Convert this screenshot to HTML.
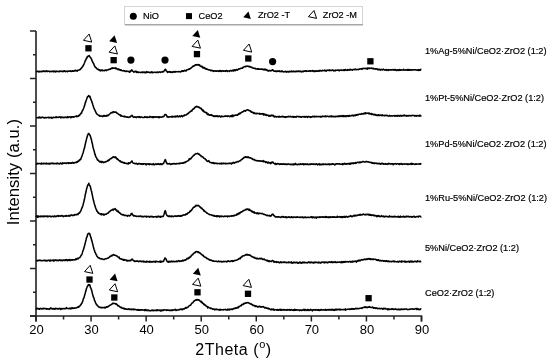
<!DOCTYPE html>
<html><head><meta charset="utf-8"><style>
html,body{margin:0;padding:0;background:#fff;}
svg{display:block;}
text{font-family:"Liberation Sans",Arial,sans-serif;fill:#000;}
.t9{font-size:9.2px;fill:#000;stroke:#000;stroke-width:0.18px;}
.t12{font-size:13px;}
.t16{font-size:16px;}
</style></head><body>
<svg width="550" height="364" viewBox="0 0 550 364">
<rect width="550" height="364" fill="#fff"/>
<path d="M36,31.0 V321.5 M30,316 H421.5 V321.5" fill="none" stroke="#222" stroke-width="1.6"/>
<path d="M30,31.00H36M33,54.75H36M30,78.50H36M33,102.25H36M30,126.00H36M33,149.75H36M30,173.50H36M33,197.25H36M30,221.00H36M33,244.75H36M30,268.50H36M33,292.25H36M30,316.00H36M36.00,316V321.5M63.54,316V319.5M91.07,316V321.5M118.61,316V319.5M146.14,316V321.5M173.68,316V319.5M201.21,316V321.5M228.75,316V319.5M256.29,316V321.5M283.82,316V319.5M311.36,316V321.5M338.89,316V319.5M366.43,316V321.5M393.96,316V319.5M421.50,316V321.5" fill="none" stroke="#222" stroke-width="1.5"/>
<text x="36.50" y="334.4" text-anchor="middle" class="t12">20</text>
<text x="91.57" y="334.4" text-anchor="middle" class="t12">30</text>
<text x="146.64" y="334.4" text-anchor="middle" class="t12">40</text>
<text x="201.71" y="334.4" text-anchor="middle" class="t12">50</text>
<text x="256.79" y="334.4" text-anchor="middle" class="t12">60</text>
<text x="311.86" y="334.4" text-anchor="middle" class="t12">70</text>
<text x="366.93" y="334.4" text-anchor="middle" class="t12">80</text>
<text x="422.00" y="334.4" text-anchor="middle" class="t12">90</text>
<text x="195.2" y="354.8" class="t16" letter-spacing="0.55">2Theta (<tspan dy="-7.2" font-size="11">o</tspan><tspan dy="7.2">)</tspan></text>
<text transform="translate(19.4,225.3) rotate(-90)" class="t16" style="font-size:16.6px" letter-spacing="0.08">Intensity (a.u.)</text>
<path d="M36.0,71.54 36.4,71.62 36.8,71.46 37.2,71.29 37.6,71.41 38.0,71.25 38.4,71.55 38.8,71.90 39.2,71.39 39.6,71.35 40.0,71.66 40.4,71.62 40.8,71.55 41.2,71.25 41.6,71.50 42.0,71.70 42.4,71.13 42.8,71.38 43.2,70.97 43.6,71.14 44.0,70.98 44.4,71.43 44.8,71.14 45.2,71.56 45.6,71.53 46.0,71.43 46.4,70.78 46.8,71.33 47.2,71.46 47.6,71.50 48.0,71.04 48.4,71.33 48.8,71.19 49.2,71.23 49.6,71.75 50.0,71.23 50.4,71.44 50.8,71.70 51.2,71.28 51.6,71.41 52.0,71.47 52.4,71.45 52.8,71.09 53.2,71.45 53.6,71.80 54.0,70.99 54.4,71.66 54.8,71.45 55.2,71.23 55.6,71.96 56.0,71.61 56.4,71.06 56.8,71.41 57.2,71.55 57.6,71.33 58.0,71.57 58.4,71.36 58.8,71.56 59.2,71.77 59.6,71.17 60.0,71.41 60.4,71.22 60.8,71.38 61.2,71.00 61.6,71.17 62.0,71.27 62.4,71.57 62.8,71.63 63.2,70.94 63.6,71.08 64.0,71.47 64.4,70.73 64.8,71.15 65.2,71.24 65.6,71.61 66.0,71.44 66.4,71.15 66.8,71.13 67.2,71.15 67.6,71.64 68.0,71.08 68.4,71.11 68.8,71.28 69.2,71.13 69.6,71.10 70.0,70.83 70.4,71.12 70.8,70.99 71.2,71.42 71.6,71.26 72.0,71.05 72.4,71.23 72.8,70.92 73.2,71.29 73.6,70.97 74.0,71.11 74.4,70.55 74.8,70.98 75.2,70.37 75.6,70.23 76.0,70.67 76.4,70.44 76.8,70.67 77.2,71.18 77.6,70.23 78.0,70.18 78.4,70.28 78.8,70.21 79.2,69.85 79.6,69.63 80.0,69.63 80.4,69.29 80.8,68.51 81.2,68.39 81.6,67.98 82.0,67.17 82.4,66.97 82.8,66.03 83.2,65.85 83.6,64.88 84.0,64.05 84.4,63.01 84.8,62.26 85.2,60.83 85.6,60.17 86.0,59.69 86.4,58.13 86.8,58.17 87.2,56.73 87.6,56.84 88.0,55.95 88.4,56.13 88.8,55.85 89.2,55.47 89.6,56.52 90.0,57.02 90.4,57.18 90.8,57.83 91.2,58.65 91.6,59.28 92.0,60.75 92.4,61.19 92.8,62.23 93.2,62.90 93.6,63.78 94.0,64.40 94.4,65.85 94.8,66.14 95.2,67.07 95.6,67.37 96.0,67.67 96.4,68.21 96.8,68.53 97.2,69.02 97.6,69.20 98.0,69.46 98.4,69.36 98.8,69.69 99.2,70.52 99.6,69.99 100.0,69.98 100.4,70.44 100.8,70.81 101.2,70.05 101.6,70.44 102.0,70.35 102.4,70.05 102.8,70.76 103.2,70.55 103.6,70.57 104.0,70.32 104.4,70.63 104.8,70.32 105.2,70.39 105.6,70.06 106.0,69.96 106.4,70.60 106.8,70.00 107.2,70.12 107.6,69.91 108.0,69.67 108.4,69.52 108.8,69.69 109.2,69.28 109.6,69.16 110.0,69.05 110.4,69.20 110.8,68.90 111.2,68.66 111.6,68.24 112.0,67.88 112.4,68.41 112.8,68.32 113.2,67.94 113.6,68.08 114.0,68.14 114.4,68.17 114.8,68.25 115.2,67.94 115.6,68.60 116.0,67.95 116.4,68.69 116.8,68.74 117.2,69.01 117.6,69.47 118.0,69.53 118.4,68.97 118.8,68.99 119.2,69.85 119.6,69.49 120.0,69.92 120.4,70.32 120.8,69.77 121.2,69.78 121.6,70.57 122.0,70.63 122.4,70.66 122.8,70.83 123.2,70.67 123.6,70.57 124.0,71.01 124.4,70.85 124.8,70.72 125.2,71.38 125.6,71.27 126.0,71.44 126.4,71.09 126.8,71.23 127.2,71.16 127.6,71.23 128.0,71.56 128.4,71.31 128.8,71.66 129.2,71.67 129.6,72.14 130.0,71.13 130.4,71.61 130.8,71.03 131.2,70.61 131.6,69.85 132.0,70.16 132.4,70.91 132.8,71.17 133.2,71.58 133.6,71.69 134.0,72.20 134.4,71.93 134.8,71.36 135.2,71.81 135.6,71.49 136.0,71.16 136.4,71.95 136.8,72.50 137.2,72.17 137.6,71.85 138.0,71.95 138.4,72.55 138.8,72.30 139.2,72.30 139.6,72.30 140.0,72.35 140.4,72.56 140.8,72.49 141.2,72.39 141.6,72.04 142.0,72.47 142.4,72.14 142.8,72.63 143.2,71.97 143.6,72.28 144.0,72.32 144.4,71.95 144.8,72.80 145.2,72.72 145.6,72.18 146.0,72.52 146.4,72.41 146.8,71.57 147.2,72.37 147.6,72.28 148.0,72.32 148.4,71.99 148.8,72.21 149.2,72.24 149.6,72.62 150.0,72.37 150.4,72.27 150.8,72.70 151.2,72.11 151.6,72.16 152.0,71.75 152.4,72.70 152.8,72.52 153.2,72.51 153.6,72.43 154.0,72.27 154.4,72.30 154.8,72.16 155.2,72.17 155.6,72.24 156.0,72.64 156.4,72.37 156.8,72.19 157.2,72.04 157.6,72.02 158.0,72.64 158.4,72.33 158.8,72.20 159.2,72.07 159.6,71.85 160.0,72.13 160.4,72.39 160.8,72.02 161.2,72.05 161.6,72.04 162.0,72.11 162.4,71.60 162.8,71.92 163.2,71.61 163.6,71.81 164.0,70.84 164.4,70.51 164.8,70.06 165.2,69.22 165.6,69.45 166.0,70.38 166.4,71.02 166.8,71.23 167.2,71.91 167.6,72.47 168.0,71.88 168.4,71.91 168.8,71.68 169.2,72.07 169.6,71.63 170.0,71.66 170.4,72.33 170.8,71.71 171.2,72.26 171.6,72.37 172.0,72.01 172.4,72.08 172.8,72.46 173.2,71.85 173.6,71.73 174.0,71.50 174.4,71.88 174.8,72.27 175.2,72.11 175.6,71.56 176.0,71.56 176.4,71.64 176.8,71.84 177.2,71.68 177.6,71.77 178.0,71.77 178.4,71.57 178.8,71.62 179.2,71.66 179.6,71.54 180.0,71.67 180.4,72.02 180.8,71.62 181.2,71.42 181.6,70.89 182.0,71.41 182.4,70.70 182.8,70.79 183.2,71.36 183.6,71.24 184.0,70.92 184.4,70.40 184.8,70.68 185.2,70.49 185.6,70.75 186.0,71.08 186.4,70.38 186.8,69.96 187.2,69.69 187.6,69.84 188.0,69.63 188.4,69.17 188.8,69.32 189.2,68.75 189.6,69.16 190.0,68.91 190.4,68.66 190.8,67.96 191.2,67.97 191.6,67.51 192.0,67.15 192.4,66.88 192.8,66.32 193.2,66.00 193.6,66.34 194.0,65.80 194.4,65.66 194.8,65.66 195.2,64.69 195.6,64.79 196.0,64.92 196.4,64.89 196.8,64.62 197.2,65.01 197.6,64.81 198.0,64.48 198.4,64.66 198.8,65.28 199.2,65.34 199.6,64.86 200.0,65.97 200.4,65.97 200.8,66.39 201.2,66.13 201.6,66.38 202.0,66.38 202.4,67.64 202.8,67.11 203.2,67.83 203.6,67.43 204.0,67.88 204.4,67.58 204.8,68.16 205.2,68.75 205.6,68.32 206.0,69.16 206.4,69.14 206.8,68.93 207.2,69.25 207.6,69.42 208.0,69.68 208.4,69.68 208.8,69.73 209.2,69.99 209.6,69.90 210.0,69.93 210.4,70.37 210.8,70.72 211.2,70.12 211.6,70.62 212.0,70.51 212.4,70.47 212.8,71.04 213.2,70.70 213.6,71.31 214.0,70.71 214.4,71.07 214.8,70.92 215.2,70.80 215.6,71.20 216.0,71.01 216.4,71.24 216.8,71.07 217.2,70.79 217.6,71.08 218.0,71.13 218.4,71.39 218.8,70.88 219.2,71.12 219.6,70.65 220.0,71.32 220.4,70.84 220.8,70.63 221.2,71.12 221.6,71.45 222.0,70.71 222.4,70.83 222.8,70.92 223.2,70.81 223.6,71.22 224.0,70.89 224.4,70.90 224.8,71.26 225.2,70.87 225.6,71.20 226.0,70.79 226.4,70.71 226.8,70.53 227.2,71.55 227.6,70.92 228.0,71.06 228.4,70.97 228.8,71.00 229.2,70.95 229.6,71.44 230.0,70.59 230.4,70.42 230.8,70.55 231.2,70.43 231.6,70.98 232.0,70.96 232.4,70.43 232.8,70.26 233.2,70.50 233.6,70.94 234.0,69.70 234.4,70.58 234.8,70.06 235.2,70.58 235.6,69.90 236.0,70.03 236.4,69.60 236.8,69.64 237.2,70.19 237.6,69.92 238.0,69.45 238.4,69.18 238.8,68.76 239.2,69.03 239.6,68.97 240.0,68.79 240.4,68.62 240.8,68.16 241.2,68.28 241.6,68.10 242.0,68.29 242.4,68.26 242.8,67.52 243.2,67.16 243.6,67.18 244.0,66.86 244.4,66.67 244.8,66.72 245.2,66.32 245.6,66.67 246.0,66.39 246.4,66.44 246.8,66.28 247.2,66.13 247.6,66.09 248.0,66.33 248.4,66.32 248.8,66.63 249.2,66.67 249.6,66.42 250.0,66.96 250.4,66.71 250.8,67.07 251.2,67.32 251.6,66.97 252.0,67.74 252.4,67.90 252.8,67.96 253.2,68.03 253.6,68.17 254.0,68.12 254.4,68.43 254.8,68.45 255.2,68.72 255.6,68.43 256.0,68.90 256.4,68.93 256.8,68.90 257.2,68.85 257.6,69.16 258.0,68.57 258.4,69.18 258.8,69.13 259.2,69.16 259.6,69.20 260.0,68.92 260.4,69.04 260.8,69.31 261.2,69.28 261.6,69.25 262.0,68.80 262.4,69.42 262.8,69.65 263.2,69.67 263.6,69.52 264.0,69.10 264.4,69.88 264.8,69.66 265.2,69.08 265.6,69.99 266.0,69.56 266.4,69.70 266.8,69.98 267.2,70.61 267.6,70.23 268.0,70.50 268.4,70.99 268.8,71.02 269.2,70.62 269.6,70.64 270.0,70.40 270.4,70.59 270.8,70.88 271.2,70.76 271.6,70.46 272.0,70.44 272.4,69.74 272.8,69.98 273.2,70.47 273.6,70.78 274.0,71.21 274.4,71.21 274.8,71.11 275.2,71.36 275.6,71.01 276.0,70.86 276.4,71.50 276.8,71.34 277.2,71.45 277.6,70.91 278.0,71.29 278.4,71.24 278.8,71.17 279.2,70.79 279.6,71.34 280.0,71.69 280.4,71.55 280.8,71.28 281.2,71.46 281.6,71.68 282.0,70.70 282.4,71.44 282.8,71.63 283.2,71.68 283.6,71.97 284.0,71.81 284.4,71.59 284.8,71.59 285.2,71.73 285.6,71.36 286.0,71.51 286.4,71.77 286.8,72.07 287.2,71.48 287.6,71.52 288.0,71.59 288.4,71.91 288.8,71.53 289.2,71.96 289.6,71.28 290.0,71.50 290.4,71.49 290.8,71.75 291.2,71.82 291.6,71.09 292.0,71.25 292.4,71.59 292.8,71.30 293.2,71.05 293.6,71.76 294.0,71.60 294.4,71.59 294.8,71.31 295.2,71.72 295.6,71.35 296.0,71.72 296.4,71.14 296.8,71.15 297.2,71.44 297.6,71.17 298.0,71.55 298.4,71.42 298.8,71.08 299.2,71.35 299.6,71.22 300.0,71.57 300.4,71.12 300.8,71.17 301.2,71.62 301.6,71.89 302.0,71.82 302.4,71.26 302.8,71.30 303.2,71.66 303.6,71.18 304.0,70.93 304.4,71.23 304.8,71.31 305.2,70.94 305.6,70.70 306.0,70.75 306.4,71.33 306.8,70.92 307.2,71.08 307.6,71.17 308.0,71.27 308.4,71.00 308.8,71.22 309.2,70.82 309.6,70.96 310.0,70.76 310.4,71.35 310.8,71.02 311.2,70.81 311.6,70.90 312.0,70.93 312.4,71.18 312.8,70.52 313.2,70.67 313.6,70.84 314.0,71.65 314.4,71.19 314.8,70.88 315.2,71.10 315.6,71.47 316.0,70.82 316.4,70.77 316.8,71.20 317.2,70.99 317.6,71.02 318.0,70.68 318.4,71.35 318.8,71.28 319.2,70.95 319.6,70.97 320.0,70.20 320.4,70.94 320.8,70.69 321.2,70.86 321.6,70.91 322.0,70.62 322.4,70.23 322.8,70.79 323.2,70.47 323.6,70.57 324.0,70.48 324.4,70.55 324.8,69.98 325.2,70.96 325.6,70.68 326.0,70.91 326.4,71.14 326.8,70.58 327.2,70.06 327.6,70.30 328.0,70.20 328.4,70.38 328.8,70.53 329.2,69.94 329.6,70.58 330.0,70.05 330.4,70.55 330.8,70.42 331.2,70.35 331.6,70.41 332.0,70.26 332.4,70.23 332.8,69.92 333.2,70.37 333.6,70.88 334.0,70.91 334.4,70.71 334.8,70.53 335.2,70.13 335.6,70.71 336.0,70.27 336.4,70.26 336.8,70.18 337.2,70.28 337.6,70.11 338.0,70.20 338.4,69.91 338.8,70.09 339.2,70.82 339.6,70.15 340.0,70.09 340.4,70.30 340.8,70.34 341.2,69.83 341.6,70.08 342.0,70.39 342.4,70.20 342.8,70.15 343.2,70.54 343.6,69.91 344.0,70.12 344.4,69.94 344.8,70.50 345.2,69.53 345.6,69.88 346.0,69.91 346.4,70.23 346.8,70.21 347.2,70.42 347.6,69.57 348.0,70.21 348.4,69.91 348.8,69.79 349.2,70.11 349.6,69.69 350.0,69.35 350.4,69.81 350.8,69.48 351.2,69.70 351.6,69.96 352.0,69.92 352.4,70.26 352.8,69.73 353.2,69.34 353.6,69.53 354.0,69.45 354.4,69.34 354.8,69.77 355.2,69.44 355.6,69.03 356.0,69.74 356.4,69.48 356.8,69.57 357.2,69.46 357.6,69.57 358.0,69.36 358.4,69.65 358.8,69.38 359.2,69.32 359.6,69.28 360.0,68.71 360.4,69.02 360.8,68.95 361.2,69.03 361.6,68.54 362.0,69.32 362.4,68.84 362.8,68.43 363.2,68.24 363.6,68.59 364.0,68.60 364.4,68.38 364.8,68.57 365.2,68.32 365.6,68.62 366.0,68.24 366.4,68.40 366.8,68.67 367.2,69.10 367.6,68.08 368.0,68.23 368.4,68.13 368.8,68.59 369.2,68.06 369.6,68.26 370.0,68.41 370.4,68.17 370.8,68.21 371.2,68.38 371.6,67.96 372.0,68.18 372.4,68.51 372.8,68.71 373.2,68.67 373.6,68.27 374.0,68.68 374.4,69.08 374.8,69.06 375.2,68.93 375.6,68.75 376.0,69.22 376.4,68.93 376.8,68.81 377.2,68.95 377.6,69.62 378.0,69.32 378.4,69.62 378.8,69.20 379.2,69.63 379.6,69.24 380.0,69.39 380.4,70.17 380.8,69.72 381.2,69.39 381.6,69.53 382.0,69.67 382.4,69.94 382.8,69.49 383.2,69.16 383.6,69.59 384.0,69.69 384.4,69.74 384.8,70.09 385.2,69.83 385.6,69.98 386.0,69.46 386.4,70.02 386.8,70.38 387.2,70.02 387.6,69.88 388.0,69.86 388.4,70.33 388.8,69.57 389.2,69.81 389.6,69.98 390.0,70.06 390.4,69.74 390.8,69.95 391.2,69.79 391.6,69.91 392.0,69.84 392.4,69.56 392.8,69.88 393.2,70.13 393.6,69.62 394.0,69.82 394.4,70.08 394.8,69.59 395.2,69.95 395.6,69.60 396.0,70.22 396.4,70.55 396.8,70.47 397.2,69.84 397.6,70.11 398.0,69.94 398.4,69.93 398.8,70.34 399.2,69.53 399.6,70.20 400.0,69.89 400.4,70.30 400.8,69.96 401.2,69.72 401.6,69.98 402.0,70.11 402.4,69.91 402.8,70.04 403.2,69.76 403.6,69.31 404.0,70.15 404.4,70.10 404.8,69.94 405.2,69.92 405.6,70.19 406.0,69.77 406.4,69.70 406.8,69.85 407.2,70.23 407.6,69.51 408.0,70.23 408.4,69.72 408.8,69.59 409.2,70.25 409.6,69.87 410.0,69.53 410.4,69.79 410.8,70.15 411.2,70.22 411.6,69.77 412.0,70.00 412.4,70.09 412.8,69.70 413.2,69.98 413.6,69.87 414.0,69.73 414.4,69.74 414.8,69.90 415.2,69.89 415.6,69.72 416.0,69.76 416.4,70.19 416.8,69.93 417.2,70.12 417.6,70.21 418.0,70.03 418.4,70.50 418.8,69.63 419.2,70.09 419.6,69.77 420.0,70.38 420.4,70.34 420.8,69.31 421.2,69.59" fill="none" stroke="#000" stroke-width="1.55" stroke-linejoin="round"/>
<path d="M36.0,117.80 36.4,117.84 36.8,117.82 37.2,117.59 37.6,117.74 38.0,117.79 38.4,117.58 38.8,117.89 39.2,116.97 39.6,117.77 40.0,117.30 40.4,117.86 40.8,117.52 41.2,117.34 41.6,117.69 42.0,117.32 42.4,117.32 42.8,117.14 43.2,117.56 43.6,117.71 44.0,117.85 44.4,117.52 44.8,117.85 45.2,117.56 45.6,117.53 46.0,117.71 46.4,117.84 46.8,117.45 47.2,117.47 47.6,117.49 48.0,117.56 48.4,117.28 48.8,117.81 49.2,117.41 49.6,117.65 50.0,117.28 50.4,117.61 50.8,117.62 51.2,117.39 51.6,118.07 52.0,117.60 52.4,117.99 52.8,117.76 53.2,117.30 53.6,117.37 54.0,117.60 54.4,117.49 54.8,117.48 55.2,117.38 55.6,116.95 56.0,117.39 56.4,116.82 56.8,117.54 57.2,117.23 57.6,117.23 58.0,117.36 58.4,117.49 58.8,117.01 59.2,116.91 59.6,117.10 60.0,116.82 60.4,117.11 60.8,117.82 61.2,117.07 61.6,117.54 62.0,116.97 62.4,117.43 62.8,117.25 63.2,117.31 63.6,117.48 64.0,117.80 64.4,117.35 64.8,117.32 65.2,117.01 65.6,117.43 66.0,117.19 66.4,117.48 66.8,117.22 67.2,117.70 67.6,116.65 68.0,117.11 68.4,117.42 68.8,117.06 69.2,116.92 69.6,117.05 70.0,116.72 70.4,117.12 70.8,117.75 71.2,117.36 71.6,116.71 72.0,116.75 72.4,116.85 72.8,117.22 73.2,116.68 73.6,116.68 74.0,117.08 74.4,117.03 74.8,116.64 75.2,116.38 75.6,116.20 76.0,116.37 76.4,115.87 76.8,116.61 77.2,116.12 77.6,116.30 78.0,116.54 78.4,116.17 78.8,115.31 79.2,115.62 79.6,115.41 80.0,114.53 80.4,114.06 80.8,113.82 81.2,112.86 81.6,113.10 82.0,111.31 82.4,110.88 82.8,110.24 83.2,109.29 83.6,108.35 84.0,107.26 84.4,105.94 84.8,105.09 85.2,102.91 85.6,102.24 86.0,100.79 86.4,99.82 86.8,98.73 87.2,97.43 87.6,96.68 88.0,96.46 88.4,95.95 88.8,95.52 89.2,96.41 89.6,96.87 90.0,96.43 90.4,97.74 90.8,99.34 91.2,99.96 91.6,101.00 92.0,102.12 92.4,103.29 92.8,104.64 93.2,105.77 93.6,107.31 94.0,108.10 94.4,109.13 94.8,109.87 95.2,111.06 95.6,111.61 96.0,112.50 96.4,113.46 96.8,113.80 97.2,114.31 97.6,114.66 98.0,114.91 98.4,115.15 98.8,115.33 99.2,115.83 99.6,115.47 100.0,116.29 100.4,116.03 100.8,115.89 101.2,116.03 101.6,116.03 102.0,116.30 102.4,116.08 102.8,116.60 103.2,116.06 103.6,115.63 104.0,116.03 104.4,115.62 104.8,116.11 105.2,116.34 105.6,116.13 106.0,115.47 106.4,115.50 106.8,116.06 107.2,115.48 107.6,115.21 108.0,115.30 108.4,115.47 108.8,114.91 109.2,114.33 109.6,114.13 110.0,113.93 110.4,113.32 110.8,112.92 111.2,112.97 111.6,112.45 112.0,112.47 112.4,112.32 112.8,112.79 113.2,111.78 113.6,111.91 114.0,111.88 114.4,112.08 114.8,112.33 115.2,112.03 115.6,112.11 116.0,112.09 116.4,112.52 116.8,113.19 117.2,113.33 117.6,113.31 118.0,113.77 118.4,114.17 118.8,114.58 119.2,114.54 119.6,114.89 120.0,114.69 120.4,115.10 120.8,116.08 121.2,115.20 121.6,115.88 122.0,116.19 122.4,116.16 122.8,116.15 123.2,116.46 123.6,116.57 124.0,116.62 124.4,116.19 124.8,116.73 125.2,116.57 125.6,116.70 126.0,116.95 126.4,117.09 126.8,117.19 127.2,116.82 127.6,117.23 128.0,117.31 128.4,117.31 128.8,117.38 129.2,116.95 129.6,116.92 130.0,117.14 130.4,116.37 130.8,116.52 131.2,115.91 131.6,115.62 132.0,115.24 132.4,115.82 132.8,116.47 133.2,117.03 133.6,117.22 134.0,116.99 134.4,116.99 134.8,116.83 135.2,117.18 135.6,117.01 136.0,117.25 136.4,117.58 136.8,117.08 137.2,116.67 137.6,116.85 138.0,116.69 138.4,116.76 138.8,117.47 139.2,117.16 139.6,116.68 140.0,117.28 140.4,117.45 140.8,117.00 141.2,116.91 141.6,117.01 142.0,117.18 142.4,117.28 142.8,117.43 143.2,117.44 143.6,117.43 144.0,117.48 144.4,117.28 144.8,116.66 145.2,117.06 145.6,117.18 146.0,116.98 146.4,117.34 146.8,116.98 147.2,116.82 147.6,117.49 148.0,117.27 148.4,117.14 148.8,117.33 149.2,117.37 149.6,117.16 150.0,116.38 150.4,116.88 150.8,116.93 151.2,116.78 151.6,117.11 152.0,117.39 152.4,116.92 152.8,116.73 153.2,117.61 153.6,116.92 154.0,116.69 154.4,117.10 154.8,117.15 155.2,116.83 155.6,117.25 156.0,116.88 156.4,116.76 156.8,117.06 157.2,117.22 157.6,116.82 158.0,117.09 158.4,116.96 158.8,117.77 159.2,116.78 159.6,117.36 160.0,116.95 160.4,116.92 160.8,117.14 161.2,117.18 161.6,117.26 162.0,116.98 162.4,116.69 162.8,116.64 163.2,116.80 163.6,116.54 164.0,116.26 164.4,115.27 164.8,114.74 165.2,114.54 165.6,114.47 166.0,114.71 166.4,115.49 166.8,115.91 167.2,117.03 167.6,116.47 168.0,117.10 168.4,116.93 168.8,117.26 169.2,117.06 169.6,116.74 170.0,116.71 170.4,116.79 170.8,116.80 171.2,116.60 171.6,116.72 172.0,117.17 172.4,116.23 172.8,116.77 173.2,116.43 173.6,116.72 174.0,116.89 174.4,116.62 174.8,116.83 175.2,116.15 175.6,116.88 176.0,116.38 176.4,116.70 176.8,116.56 177.2,115.75 177.6,116.24 178.0,116.48 178.4,116.82 178.8,116.43 179.2,116.39 179.6,115.88 180.0,116.63 180.4,116.69 180.8,116.13 181.2,116.01 181.6,115.55 182.0,116.19 182.4,116.62 182.8,115.98 183.2,116.04 183.6,115.74 184.0,115.21 184.4,115.74 184.8,114.89 185.2,115.03 185.6,115.02 186.0,115.02 186.4,114.70 186.8,114.50 187.2,113.96 187.6,113.58 188.0,113.71 188.4,113.23 188.8,112.78 189.2,112.49 189.6,112.39 190.0,111.67 190.4,111.46 190.8,111.01 191.2,111.13 191.6,110.80 192.0,110.85 192.4,109.46 192.8,109.28 193.2,109.32 193.6,108.61 194.0,108.20 194.4,108.41 194.8,107.52 195.2,107.01 195.6,106.73 196.0,107.00 196.4,106.87 196.8,106.33 197.2,106.43 197.6,106.91 198.0,107.03 198.4,106.84 198.8,107.39 199.2,107.61 199.6,107.22 200.0,107.92 200.4,108.43 200.8,108.47 201.2,108.36 201.6,109.22 202.0,109.85 202.4,110.42 202.8,109.70 203.2,111.38 203.6,110.66 204.0,111.57 204.4,111.97 204.8,112.21 205.2,112.28 205.6,112.21 206.0,112.99 206.4,112.89 206.8,112.64 207.2,114.39 207.6,114.03 208.0,114.56 208.4,114.00 208.8,114.86 209.2,115.07 209.6,115.23 210.0,114.94 210.4,114.75 210.8,115.17 211.2,114.72 211.6,114.97 212.0,115.58 212.4,115.36 212.8,115.68 213.2,115.77 213.6,116.40 214.0,116.29 214.4,115.97 214.8,116.36 215.2,115.85 215.6,116.01 216.0,116.40 216.4,115.83 216.8,116.12 217.2,115.86 217.6,116.28 218.0,116.73 218.4,116.08 218.8,116.37 219.2,116.06 219.6,116.01 220.0,115.99 220.4,116.75 220.8,117.02 221.2,116.50 221.6,116.17 222.0,116.57 222.4,116.28 222.8,116.60 223.2,116.46 223.6,116.45 224.0,116.54 224.4,116.21 224.8,116.25 225.2,115.88 225.6,116.23 226.0,115.95 226.4,116.30 226.8,116.06 227.2,116.34 227.6,116.43 228.0,115.89 228.4,116.04 228.8,115.98 229.2,116.43 229.6,116.67 230.0,116.41 230.4,116.04 230.8,116.51 231.2,115.64 231.6,116.44 232.0,115.79 232.4,115.14 232.8,116.60 233.2,116.23 233.6,115.43 234.0,115.69 234.4,115.50 234.8,115.50 235.2,114.95 235.6,115.07 236.0,115.27 236.4,115.07 236.8,115.21 237.2,114.75 237.6,115.23 238.0,114.20 238.4,114.30 238.8,113.50 239.2,113.49 239.6,114.00 240.0,113.15 240.4,113.34 240.8,112.94 241.2,112.43 241.6,112.38 242.0,112.09 242.4,111.85 242.8,111.95 243.2,111.68 243.6,111.11 244.0,110.79 244.4,110.92 244.8,110.62 245.2,110.77 245.6,111.09 246.0,110.47 246.4,110.15 246.8,110.07 247.2,109.87 247.6,109.88 248.0,109.91 248.4,110.18 248.8,110.29 249.2,110.76 249.6,110.61 250.0,110.84 250.4,110.75 250.8,111.76 251.2,111.64 251.6,112.21 252.0,112.13 252.4,112.52 252.8,112.23 253.2,112.68 253.6,113.40 254.0,112.46 254.4,113.27 254.8,113.55 255.2,113.31 255.6,113.50 256.0,113.73 256.4,113.26 256.8,113.63 257.2,113.31 257.6,113.40 258.0,113.45 258.4,113.61 258.8,113.71 259.2,113.81 259.6,113.29 260.0,114.28 260.4,114.06 260.8,113.96 261.2,113.68 261.6,113.79 262.0,114.02 262.4,114.05 262.8,113.52 263.2,114.29 263.6,115.00 264.0,113.74 264.4,114.66 264.8,114.59 265.2,114.57 265.6,115.12 266.0,114.50 266.4,115.01 266.8,115.50 267.2,115.14 267.6,115.19 268.0,115.46 268.4,115.40 268.8,116.08 269.2,115.46 269.6,116.06 270.0,115.52 270.4,116.12 270.8,115.90 271.2,115.12 271.6,115.71 272.0,115.19 272.4,115.22 272.8,115.84 273.2,115.32 273.6,115.64 274.0,116.61 274.4,116.40 274.8,116.91 275.2,116.61 275.6,116.30 276.0,116.56 276.4,116.95 276.8,116.89 277.2,116.64 277.6,116.67 278.0,116.63 278.4,116.51 278.8,117.24 279.2,116.70 279.6,116.38 280.0,116.58 280.4,116.93 280.8,116.91 281.2,116.69 281.6,116.55 282.0,116.75 282.4,116.27 282.8,116.38 283.2,116.99 283.6,116.63 284.0,116.88 284.4,117.12 284.8,116.96 285.2,116.79 285.6,117.40 286.0,116.98 286.4,116.69 286.8,117.01 287.2,116.92 287.6,116.55 288.0,116.82 288.4,116.76 288.8,116.24 289.2,116.76 289.6,116.73 290.0,116.69 290.4,116.34 290.8,116.72 291.2,116.81 291.6,116.85 292.0,116.50 292.4,117.01 292.8,116.48 293.2,116.76 293.6,117.21 294.0,116.63 294.4,116.69 294.8,117.14 295.2,116.72 295.6,116.75 296.0,116.90 296.4,117.14 296.8,116.20 297.2,116.60 297.6,116.55 298.0,116.53 298.4,116.60 298.8,116.60 299.2,116.93 299.6,116.59 300.0,116.88 300.4,116.96 300.8,116.63 301.2,116.87 301.6,117.30 302.0,116.92 302.4,116.64 302.8,116.80 303.2,116.55 303.6,116.89 304.0,117.06 304.4,116.57 304.8,116.74 305.2,117.12 305.6,116.65 306.0,116.84 306.4,116.49 306.8,116.55 307.2,116.63 307.6,117.38 308.0,116.65 308.4,116.62 308.8,116.60 309.2,116.71 309.6,116.94 310.0,116.80 310.4,117.32 310.8,116.80 311.2,117.14 311.6,116.81 312.0,116.90 312.4,116.32 312.8,116.68 313.2,116.69 313.6,116.64 314.0,116.10 314.4,116.95 314.8,116.59 315.2,116.57 315.6,116.61 316.0,116.62 316.4,116.79 316.8,116.32 317.2,116.41 317.6,116.74 318.0,116.70 318.4,116.55 318.8,116.49 319.2,116.41 319.6,116.62 320.0,116.96 320.4,116.33 320.8,117.05 321.2,116.85 321.6,116.48 322.0,116.83 322.4,116.19 322.8,116.11 323.2,116.23 323.6,116.47 324.0,116.49 324.4,116.43 324.8,116.60 325.2,115.96 325.6,116.70 326.0,116.15 326.4,116.36 326.8,116.42 327.2,116.21 327.6,116.14 328.0,116.24 328.4,116.51 328.8,116.67 329.2,116.66 329.6,116.22 330.0,116.27 330.4,116.23 330.8,116.60 331.2,115.90 331.6,116.81 332.0,116.32 332.4,116.23 332.8,116.54 333.2,116.73 333.6,116.53 334.0,116.72 334.4,116.45 334.8,116.75 335.2,116.75 335.6,116.36 336.0,116.79 336.4,116.42 336.8,116.39 337.2,116.10 337.6,116.27 338.0,116.56 338.4,115.96 338.8,116.50 339.2,116.41 339.6,116.38 340.0,115.67 340.4,116.25 340.8,116.45 341.2,116.04 341.6,116.27 342.0,115.57 342.4,116.41 342.8,116.02 343.2,116.44 343.6,115.66 344.0,116.36 344.4,116.08 344.8,116.36 345.2,115.85 345.6,115.92 346.0,116.70 346.4,115.82 346.8,115.83 347.2,115.93 347.6,115.69 348.0,116.29 348.4,116.41 348.8,115.70 349.2,115.38 349.6,116.16 350.0,116.11 350.4,115.99 350.8,116.05 351.2,115.44 351.6,115.59 352.0,115.21 352.4,115.15 352.8,115.77 353.2,115.26 353.6,116.03 354.0,115.36 354.4,115.10 354.8,115.44 355.2,115.66 355.6,115.22 356.0,114.68 356.4,115.05 356.8,115.26 357.2,114.66 357.6,114.51 358.0,114.93 358.4,114.61 358.8,114.18 359.2,114.30 359.6,114.12 360.0,114.33 360.4,114.20 360.8,114.41 361.2,114.21 361.6,113.50 362.0,113.98 362.4,114.04 362.8,113.86 363.2,113.96 363.6,113.46 364.0,113.30 364.4,113.79 364.8,113.19 365.2,112.86 365.6,113.74 366.0,113.24 366.4,113.35 366.8,113.06 367.2,113.09 367.6,113.17 368.0,113.42 368.4,113.66 368.8,112.96 369.2,113.87 369.6,113.38 370.0,113.47 370.4,114.03 370.8,113.88 371.2,113.54 371.6,114.56 372.0,113.87 372.4,114.26 372.8,114.31 373.2,114.72 373.6,114.27 374.0,114.75 374.4,114.33 374.8,114.92 375.2,114.46 375.6,114.63 376.0,115.33 376.4,114.94 376.8,114.94 377.2,115.59 377.6,115.12 378.0,114.84 378.4,115.32 378.8,114.83 379.2,115.52 379.6,115.58 380.0,115.12 380.4,115.14 380.8,115.40 381.2,115.39 381.6,115.14 382.0,115.60 382.4,114.90 382.8,115.37 383.2,115.40 383.6,115.46 384.0,115.64 384.4,115.23 384.8,115.75 385.2,115.55 385.6,115.43 386.0,115.25 386.4,115.31 386.8,115.75 387.2,115.39 387.6,115.69 388.0,115.97 388.4,115.97 388.8,116.13 389.2,115.61 389.6,115.39 390.0,115.99 390.4,115.79 390.8,116.02 391.2,115.72 391.6,116.05 392.0,115.95 392.4,115.92 392.8,115.86 393.2,115.83 393.6,115.79 394.0,115.79 394.4,116.00 394.8,115.58 395.2,116.21 395.6,115.69 396.0,116.00 396.4,115.69 396.8,115.65 397.2,116.29 397.6,115.63 398.0,115.36 398.4,115.51 398.8,115.62 399.2,116.31 399.6,115.77 400.0,115.97 400.4,115.43 400.8,115.80 401.2,115.89 401.6,116.20 402.0,115.50 402.4,115.86 402.8,115.78 403.2,115.40 403.6,115.68 404.0,115.61 404.4,115.03 404.8,115.85 405.2,115.83 405.6,115.55 406.0,115.30 406.4,116.08 406.8,115.74 407.2,115.95 407.6,116.05 408.0,115.51 408.4,115.88 408.8,115.58 409.2,115.63 409.6,115.62 410.0,115.64 410.4,115.95 410.8,115.67 411.2,115.59 411.6,115.55 412.0,115.72 412.4,115.37 412.8,115.48 413.2,115.60 413.6,115.45 414.0,115.57 414.4,115.43 414.8,116.16 415.2,115.97 415.6,115.72 416.0,115.57 416.4,116.20 416.8,115.67 417.2,115.55 417.6,115.66 418.0,115.66 418.4,115.96 418.8,115.56 419.2,116.15 419.6,115.31 420.0,115.75 420.4,115.27 420.8,116.05 421.2,115.45" fill="none" stroke="#000" stroke-width="1.55" stroke-linejoin="round"/>
<path d="M36.0,163.68 36.4,163.95 36.8,164.04 37.2,163.38 37.6,163.59 38.0,163.29 38.4,163.72 38.8,163.65 39.2,163.58 39.6,163.48 40.0,163.56 40.4,163.46 40.8,163.81 41.2,164.09 41.6,163.12 42.0,163.62 42.4,163.54 42.8,163.79 43.2,163.38 43.6,163.60 44.0,163.35 44.4,163.83 44.8,163.66 45.2,163.59 45.6,163.73 46.0,163.56 46.4,163.19 46.8,163.79 47.2,163.70 47.6,163.57 48.0,163.88 48.4,163.95 48.8,163.29 49.2,163.38 49.6,164.03 50.0,163.99 50.4,163.38 50.8,163.25 51.2,163.40 51.6,163.43 52.0,163.12 52.4,163.57 52.8,163.20 53.2,163.21 53.6,163.80 54.0,163.35 54.4,163.52 54.8,163.71 55.2,163.75 55.6,163.43 56.0,163.53 56.4,163.28 56.8,163.99 57.2,163.68 57.6,163.18 58.0,163.48 58.4,163.67 58.8,163.60 59.2,163.97 59.6,163.83 60.0,163.29 60.4,163.41 60.8,163.07 61.2,163.49 61.6,163.45 62.0,164.15 62.4,163.41 62.8,162.79 63.2,163.18 63.6,163.38 64.0,162.99 64.4,163.09 64.8,163.21 65.2,163.40 65.6,163.24 66.0,163.02 66.4,163.48 66.8,163.09 67.2,163.08 67.6,162.82 68.0,162.97 68.4,163.35 68.8,162.69 69.2,163.10 69.6,163.30 70.0,162.97 70.4,163.12 70.8,162.71 71.2,163.36 71.6,163.27 72.0,162.99 72.4,162.40 72.8,162.56 73.2,163.08 73.6,163.24 74.0,162.80 74.4,163.01 74.8,162.43 75.2,162.47 75.6,162.45 76.0,162.47 76.4,161.82 76.8,162.39 77.2,162.35 77.6,161.48 78.0,161.22 78.4,161.46 78.8,160.88 79.2,160.06 79.6,160.55 80.0,159.88 80.4,159.15 80.8,159.22 81.2,157.92 81.6,156.82 82.0,156.08 82.4,154.68 82.8,153.55 83.2,152.54 83.6,150.84 84.0,149.33 84.4,148.30 84.8,146.37 85.2,144.62 85.6,142.79 86.0,141.06 86.4,139.68 86.8,137.73 87.2,136.90 87.6,134.98 88.0,134.32 88.4,133.47 88.8,133.58 89.2,134.00 89.6,134.78 90.0,135.04 90.4,136.35 90.8,137.60 91.2,139.02 91.6,140.54 92.0,142.61 92.4,143.85 92.8,146.10 93.2,147.76 93.6,149.19 94.0,150.62 94.4,151.95 94.8,154.18 95.2,154.48 95.6,156.37 96.0,157.06 96.4,157.64 96.8,158.16 97.2,159.41 97.6,160.15 98.0,159.87 98.4,160.44 98.8,161.15 99.2,161.23 99.6,161.92 100.0,161.39 100.4,161.85 100.8,161.47 101.2,162.50 101.6,161.79 102.0,161.43 102.4,162.05 102.8,162.07 103.2,162.65 103.6,162.00 104.0,162.06 104.4,162.19 104.8,162.40 105.2,161.85 105.6,162.06 106.0,161.79 106.4,161.41 106.8,161.35 107.2,161.14 107.6,160.66 108.0,161.02 108.4,160.04 108.8,160.48 109.2,160.12 109.6,159.53 110.0,159.02 110.4,158.86 110.8,158.74 111.2,158.52 111.6,158.10 112.0,158.04 112.4,157.38 112.8,157.42 113.2,156.77 113.6,157.35 114.0,157.15 114.4,157.03 114.8,157.57 115.2,157.60 115.6,156.82 116.0,157.86 116.4,157.72 116.8,158.73 117.2,159.45 117.6,158.94 118.0,159.45 118.4,159.69 118.8,160.18 119.2,160.58 119.6,161.06 120.0,160.70 120.4,161.69 120.8,161.25 121.2,161.82 121.6,162.28 122.0,162.35 122.4,162.05 122.8,162.27 123.2,162.47 123.6,162.71 124.0,163.15 124.4,162.55 124.8,163.13 125.2,163.24 125.6,163.28 126.0,163.31 126.4,163.65 126.8,163.40 127.2,163.54 127.6,163.48 128.0,163.85 128.4,162.84 128.8,163.74 129.2,163.31 129.6,163.29 130.0,163.00 130.4,162.49 130.8,162.42 131.2,161.65 131.6,161.43 132.0,160.90 132.4,162.30 132.8,162.69 133.2,163.08 133.6,163.24 134.0,163.36 134.4,163.32 134.8,163.53 135.2,163.71 135.6,163.68 136.0,163.36 136.4,163.70 136.8,163.54 137.2,163.86 137.6,164.35 138.0,164.02 138.4,163.78 138.8,163.42 139.2,163.50 139.6,163.44 140.0,164.13 140.4,163.72 140.8,163.97 141.2,163.79 141.6,164.01 142.0,164.39 142.4,163.82 142.8,163.92 143.2,163.81 143.6,164.29 144.0,163.77 144.4,163.75 144.8,163.70 145.2,163.70 145.6,164.24 146.0,164.84 146.4,163.85 146.8,164.41 147.2,164.23 147.6,163.86 148.0,164.10 148.4,164.13 148.8,164.01 149.2,164.75 149.6,163.69 150.0,164.34 150.4,164.33 150.8,164.07 151.2,164.27 151.6,164.47 152.0,164.27 152.4,164.34 152.8,164.42 153.2,163.65 153.6,164.63 154.0,164.85 154.4,164.48 154.8,164.49 155.2,163.81 155.6,164.17 156.0,163.97 156.4,164.03 156.8,164.46 157.2,163.96 157.6,164.14 158.0,163.64 158.4,164.12 158.8,164.18 159.2,163.95 159.6,163.94 160.0,164.66 160.4,163.78 160.8,163.81 161.2,163.86 161.6,164.39 162.0,164.62 162.4,164.07 162.8,163.68 163.2,163.54 163.6,163.50 164.0,162.12 164.4,161.62 164.8,160.44 165.2,159.53 165.6,160.21 166.0,161.39 166.4,162.77 166.8,162.85 167.2,163.92 167.6,163.69 168.0,163.66 168.4,163.94 168.8,163.87 169.2,163.66 169.6,163.49 170.0,163.68 170.4,164.34 170.8,164.48 171.2,164.11 171.6,164.25 172.0,163.76 172.4,163.87 172.8,163.96 173.2,163.57 173.6,163.58 174.0,163.87 174.4,163.73 174.8,163.51 175.2,163.89 175.6,163.69 176.0,164.03 176.4,163.72 176.8,163.61 177.2,163.70 177.6,163.59 178.0,163.42 178.4,163.46 178.8,163.75 179.2,163.68 179.6,163.82 180.0,162.94 180.4,163.25 180.8,163.19 181.2,163.29 181.6,163.05 182.0,162.97 182.4,163.25 182.8,163.00 183.2,162.53 183.6,163.12 184.0,162.92 184.4,162.35 184.8,162.61 185.2,162.03 185.6,162.38 186.0,161.83 186.4,161.48 186.8,161.39 187.2,161.06 187.6,161.08 188.0,160.82 188.4,160.50 188.8,160.04 189.2,158.86 189.6,159.57 190.0,158.66 190.4,158.89 190.8,158.76 191.2,158.12 191.6,157.52 192.0,157.16 192.4,156.74 192.8,156.20 193.2,155.77 193.6,155.26 194.0,155.45 194.4,154.75 194.8,154.68 195.2,154.05 195.6,153.89 196.0,153.63 196.4,153.68 196.8,153.71 197.2,153.54 197.6,153.34 198.0,153.42 198.4,154.26 198.8,153.93 199.2,154.17 199.6,154.94 200.0,155.14 200.4,155.31 200.8,155.38 201.2,156.50 201.6,156.30 202.0,156.70 202.4,156.85 202.8,156.86 203.2,157.23 203.6,158.06 204.0,158.40 204.4,158.56 204.8,158.63 205.2,158.87 205.6,159.49 206.0,159.47 206.4,160.42 206.8,160.76 207.2,161.49 207.6,161.19 208.0,161.00 208.4,161.14 208.8,160.62 209.2,161.61 209.6,161.90 210.0,162.39 210.4,162.44 210.8,162.57 211.2,162.59 211.6,162.83 212.0,163.15 212.4,162.55 212.8,162.80 213.2,162.62 213.6,163.53 214.0,163.51 214.4,163.41 214.8,162.92 215.2,163.35 215.6,163.27 216.0,163.40 216.4,163.36 216.8,163.58 217.2,163.35 217.6,163.73 218.0,163.58 218.4,163.45 218.8,163.51 219.2,163.44 219.6,163.80 220.0,163.51 220.4,163.68 220.8,163.49 221.2,163.19 221.6,163.87 222.0,163.32 222.4,163.81 222.8,163.74 223.2,163.16 223.6,163.36 224.0,163.48 224.4,163.39 224.8,163.29 225.2,163.82 225.6,163.54 226.0,163.70 226.4,163.47 226.8,163.66 227.2,163.35 227.6,163.54 228.0,163.69 228.4,163.52 228.8,163.36 229.2,163.16 229.6,163.49 230.0,163.51 230.4,163.30 230.8,163.12 231.2,163.45 231.6,163.95 232.0,163.11 232.4,163.24 232.8,163.19 233.2,162.29 233.6,162.97 234.0,162.66 234.4,163.15 234.8,162.59 235.2,162.34 235.6,162.38 236.0,162.36 236.4,162.02 236.8,162.02 237.2,161.49 237.6,161.64 238.0,161.74 238.4,161.89 238.8,161.33 239.2,161.00 239.6,161.03 240.0,160.76 240.4,160.70 240.8,160.29 241.2,159.70 241.6,159.54 242.0,159.26 242.4,159.03 242.8,158.74 243.2,158.21 243.6,157.59 244.0,157.75 244.4,157.15 244.8,157.53 245.2,157.34 245.6,156.72 246.0,157.26 246.4,157.23 246.8,156.97 247.2,157.40 247.6,157.49 248.0,156.69 248.4,157.42 248.8,157.38 249.2,157.53 249.6,157.86 250.0,157.59 250.4,157.83 250.8,157.98 251.2,158.22 251.6,158.63 252.0,158.47 252.4,158.79 252.8,159.45 253.2,159.47 253.6,159.77 254.0,159.31 254.4,159.77 254.8,159.97 255.2,160.26 255.6,160.20 256.0,160.71 256.4,160.52 256.8,160.60 257.2,160.65 257.6,160.89 258.0,160.59 258.4,161.06 258.8,160.90 259.2,160.83 259.6,160.81 260.0,160.96 260.4,161.12 260.8,161.12 261.2,161.00 261.6,161.18 262.0,161.02 262.4,161.40 262.8,161.12 263.2,160.63 263.6,161.69 264.0,161.45 264.4,161.20 264.8,161.60 265.2,161.53 265.6,162.49 266.0,162.17 266.4,161.73 266.8,162.45 267.2,162.31 267.6,163.08 268.0,162.36 268.4,162.14 268.8,162.89 269.2,162.87 269.6,162.94 270.0,162.53 270.4,163.28 270.8,163.58 271.2,162.41 271.6,162.94 272.0,162.04 272.4,162.54 272.8,162.06 273.2,162.30 273.6,163.18 274.0,163.45 274.4,163.41 274.8,163.93 275.2,163.67 275.6,163.36 276.0,164.47 276.4,163.83 276.8,163.78 277.2,164.06 277.6,163.55 278.0,163.62 278.4,163.88 278.8,163.88 279.2,164.06 279.6,164.37 280.0,163.93 280.4,164.21 280.8,164.25 281.2,163.78 281.6,164.16 282.0,163.84 282.4,164.41 282.8,164.24 283.2,164.13 283.6,163.75 284.0,164.16 284.4,163.92 284.8,164.34 285.2,164.11 285.6,163.92 286.0,164.41 286.4,164.36 286.8,164.00 287.2,164.49 287.6,164.09 288.0,164.09 288.4,164.21 288.8,163.97 289.2,164.06 289.6,164.14 290.0,164.62 290.4,164.61 290.8,164.12 291.2,164.65 291.6,164.19 292.0,164.31 292.4,164.45 292.8,164.29 293.2,164.89 293.6,164.28 294.0,163.88 294.4,164.58 294.8,164.10 295.2,164.14 295.6,163.38 296.0,164.50 296.4,164.45 296.8,164.45 297.2,164.50 297.6,164.70 298.0,164.22 298.4,164.50 298.8,164.03 299.2,164.14 299.6,164.53 300.0,164.35 300.4,163.87 300.8,164.34 301.2,164.19 301.6,164.01 302.0,164.36 302.4,164.13 302.8,163.80 303.2,163.93 303.6,164.74 304.0,163.82 304.4,164.30 304.8,164.41 305.2,164.42 305.6,163.90 306.0,164.15 306.4,164.28 306.8,164.46 307.2,164.06 307.6,163.91 308.0,164.52 308.4,164.55 308.8,164.34 309.2,164.07 309.6,164.35 310.0,164.27 310.4,164.47 310.8,163.89 311.2,164.27 311.6,164.19 312.0,163.92 312.4,164.29 312.8,164.24 313.2,164.12 313.6,164.34 314.0,163.83 314.4,164.21 314.8,164.35 315.2,164.31 315.6,164.53 316.0,163.89 316.4,163.80 316.8,164.29 317.2,164.35 317.6,164.81 318.0,164.39 318.4,163.97 318.8,164.44 319.2,163.98 319.6,163.80 320.0,164.94 320.4,164.30 320.8,164.41 321.2,164.37 321.6,164.72 322.0,164.29 322.4,164.55 322.8,163.92 323.2,163.81 323.6,164.60 324.0,164.61 324.4,164.34 324.8,164.26 325.2,164.24 325.6,164.00 326.0,164.62 326.4,164.37 326.8,164.33 327.2,164.29 327.6,164.47 328.0,164.32 328.4,164.38 328.8,163.85 329.2,164.31 329.6,164.78 330.0,164.02 330.4,164.13 330.8,164.41 331.2,164.43 331.6,164.33 332.0,163.70 332.4,164.29 332.8,163.81 333.2,163.91 333.6,164.29 334.0,164.05 334.4,164.36 334.8,165.01 335.2,164.34 335.6,164.32 336.0,163.86 336.4,163.93 336.8,163.81 337.2,163.95 337.6,163.79 338.0,163.90 338.4,164.02 338.8,163.80 339.2,163.67 339.6,163.68 340.0,164.18 340.4,164.07 340.8,164.33 341.2,164.33 341.6,163.93 342.0,164.20 342.4,163.60 342.8,164.63 343.2,164.32 343.6,163.91 344.0,163.63 344.4,164.05 344.8,163.40 345.2,163.69 345.6,164.10 346.0,163.90 346.4,163.72 346.8,164.10 347.2,163.53 347.6,163.87 348.0,163.63 348.4,163.50 348.8,163.84 349.2,163.41 349.6,164.19 350.0,163.46 350.4,164.14 350.8,163.24 351.2,163.68 351.6,163.13 352.0,163.05 352.4,163.43 352.8,163.52 353.2,162.93 353.6,163.57 354.0,162.96 354.4,163.16 354.8,163.18 355.2,163.18 355.6,162.45 356.0,163.34 356.4,162.99 356.8,162.65 357.2,162.41 357.6,162.16 358.0,162.19 358.4,162.66 358.8,162.34 359.2,162.05 359.6,162.16 360.0,162.68 360.4,162.09 360.8,161.97 361.2,162.45 361.6,162.16 362.0,161.99 362.4,161.77 362.8,161.47 363.2,161.55 363.6,161.73 364.0,161.79 364.4,161.94 364.8,162.00 365.2,161.91 365.6,161.93 366.0,161.61 366.4,161.31 366.8,161.81 367.2,161.73 367.6,161.86 368.0,162.01 368.4,161.79 368.8,161.89 369.2,162.23 369.6,162.35 370.0,162.20 370.4,162.59 370.8,162.45 371.2,162.29 371.6,162.65 372.0,163.23 372.4,162.58 372.8,163.15 373.2,163.27 373.6,163.37 374.0,162.77 374.4,163.62 374.8,163.15 375.2,163.10 375.6,163.15 376.0,163.43 376.4,163.33 376.8,163.31 377.2,163.76 377.6,163.24 378.0,163.18 378.4,163.73 378.8,163.74 379.2,163.89 379.6,163.31 380.0,163.94 380.4,163.80 380.8,164.18 381.2,163.37 381.6,163.80 382.0,163.68 382.4,163.33 382.8,163.60 383.2,164.13 383.6,163.70 384.0,163.64 384.4,164.10 384.8,164.15 385.2,164.16 385.6,163.67 386.0,163.89 386.4,164.20 386.8,163.74 387.2,163.72 387.6,164.17 388.0,164.38 388.4,163.63 388.8,163.23 389.2,163.56 389.6,163.69 390.0,163.94 390.4,164.15 390.8,163.94 391.2,163.79 391.6,164.03 392.0,163.73 392.4,163.99 392.8,163.82 393.2,164.76 393.6,164.24 394.0,163.78 394.4,163.73 394.8,163.89 395.2,163.56 395.6,163.82 396.0,163.82 396.4,164.27 396.8,163.91 397.2,163.81 397.6,163.65 398.0,163.70 398.4,164.01 398.8,163.97 399.2,164.35 399.6,163.86 400.0,164.33 400.4,164.11 400.8,164.04 401.2,163.48 401.6,163.68 402.0,164.25 402.4,164.43 402.8,164.10 403.2,164.26 403.6,163.93 404.0,163.94 404.4,163.86 404.8,164.32 405.2,164.14 405.6,163.98 406.0,163.96 406.4,164.20 406.8,164.14 407.2,163.82 407.6,164.53 408.0,164.12 408.4,164.05 408.8,164.46 409.2,164.34 409.6,164.03 410.0,164.20 410.4,163.75 410.8,163.87 411.2,163.42 411.6,164.39 412.0,163.52 412.4,164.24 412.8,163.82 413.2,163.78 413.6,164.00 414.0,164.12 414.4,164.22 414.8,164.55 415.2,164.15 415.6,164.30 416.0,163.88 416.4,164.25 416.8,164.09 417.2,163.92 417.6,164.02 418.0,164.03 418.4,164.10 418.8,164.16 419.2,163.90 419.6,163.84 420.0,164.26 420.4,163.57 420.8,163.87 421.2,164.48" fill="none" stroke="#000" stroke-width="1.55" stroke-linejoin="round"/>
<path d="M36.0,215.73 36.4,216.29 36.8,216.67 37.2,216.01 37.6,217.20 38.0,215.74 38.4,216.86 38.8,216.89 39.2,216.71 39.6,216.39 40.0,216.54 40.4,216.19 40.8,216.66 41.2,216.12 41.6,216.35 42.0,216.70 42.4,216.10 42.8,216.31 43.2,216.45 43.6,216.02 44.0,216.72 44.4,216.48 44.8,215.96 45.2,216.37 45.6,216.16 46.0,216.18 46.4,216.38 46.8,216.16 47.2,216.62 47.6,216.15 48.0,216.61 48.4,216.32 48.8,216.57 49.2,216.17 49.6,216.17 50.0,215.99 50.4,216.46 50.8,216.56 51.2,216.88 51.6,216.64 52.0,216.35 52.4,216.21 52.8,216.37 53.2,216.25 53.6,216.66 54.0,216.50 54.4,216.00 54.8,216.03 55.2,216.60 55.6,216.30 56.0,216.14 56.4,216.52 56.8,216.08 57.2,216.10 57.6,216.04 58.0,215.61 58.4,216.39 58.8,215.80 59.2,215.97 59.6,215.91 60.0,216.31 60.4,216.08 60.8,216.09 61.2,215.60 61.6,216.04 62.0,215.63 62.4,216.12 62.8,216.12 63.2,216.00 63.6,216.57 64.0,216.13 64.4,216.13 64.8,215.99 65.2,215.88 65.6,216.18 66.0,216.21 66.4,215.51 66.8,216.15 67.2,215.98 67.6,216.09 68.0,215.93 68.4,215.42 68.8,215.42 69.2,216.23 69.6,215.77 70.0,215.27 70.4,215.73 70.8,215.50 71.2,215.06 71.6,214.90 72.0,215.05 72.4,215.53 72.8,215.40 73.2,215.30 73.6,215.40 74.0,215.43 74.4,214.61 74.8,215.05 75.2,214.82 75.6,214.62 76.0,214.71 76.4,214.72 76.8,214.54 77.2,214.05 77.6,214.13 78.0,214.61 78.4,213.49 78.8,213.00 79.2,213.18 79.6,212.83 80.0,212.28 80.4,211.23 80.8,211.13 81.2,209.82 81.6,208.80 82.0,207.91 82.4,206.88 82.8,205.81 83.2,204.36 83.6,202.63 84.0,201.25 84.4,199.26 84.8,197.67 85.2,195.15 85.6,193.23 86.0,192.03 86.4,189.65 86.8,188.31 87.2,186.91 87.6,185.58 88.0,184.67 88.4,184.61 88.8,183.31 89.2,184.46 89.6,185.42 90.0,185.69 90.4,186.88 90.8,188.54 91.2,190.49 91.6,191.41 92.0,193.60 92.4,195.40 92.8,197.46 93.2,199.16 93.6,201.04 94.0,202.38 94.4,204.04 94.8,205.25 95.2,206.54 95.6,207.84 96.0,208.87 96.4,209.49 96.8,211.05 97.2,211.26 97.6,211.49 98.0,212.69 98.4,212.59 98.8,213.30 99.2,213.44 99.6,213.76 100.0,213.93 100.4,213.89 100.8,214.19 101.2,214.85 101.6,213.73 102.0,214.43 102.4,214.57 102.8,214.18 103.2,214.09 103.6,215.06 104.0,214.32 104.4,214.96 104.8,214.45 105.2,214.23 105.6,214.23 106.0,214.14 106.4,214.13 106.8,213.74 107.2,213.45 107.6,213.22 108.0,213.29 108.4,212.86 108.8,212.05 109.2,211.84 109.6,211.78 110.0,211.18 110.4,210.90 110.8,210.40 111.2,210.27 111.6,210.15 112.0,210.03 112.4,209.51 112.8,209.88 113.2,209.13 113.6,209.96 114.0,209.32 114.4,209.22 114.8,209.04 115.2,208.56 115.6,209.52 116.0,209.88 116.4,210.66 116.8,210.07 117.2,211.33 117.6,211.08 118.0,211.72 118.4,211.16 118.8,212.26 119.2,212.46 119.6,213.07 120.0,213.20 120.4,213.15 120.8,214.01 121.2,214.19 121.6,214.39 122.0,214.71 122.4,214.92 122.8,214.77 123.2,214.54 123.6,214.66 124.0,215.54 124.4,215.45 124.8,215.37 125.2,215.29 125.6,215.48 126.0,215.54 126.4,215.48 126.8,215.42 127.2,216.26 127.6,215.75 128.0,215.54 128.4,215.37 128.8,215.54 129.2,215.95 129.6,215.93 130.0,215.54 130.4,215.31 130.8,214.64 131.2,213.62 131.6,213.64 132.0,213.40 132.4,214.68 132.8,214.61 133.2,215.40 133.6,216.02 134.0,215.86 134.4,215.62 134.8,215.78 135.2,216.11 135.6,216.20 136.0,216.10 136.4,216.43 136.8,216.45 137.2,216.28 137.6,216.22 138.0,216.15 138.4,216.40 138.8,216.52 139.2,216.29 139.6,216.41 140.0,216.21 140.4,215.92 140.8,216.05 141.2,216.56 141.6,216.49 142.0,216.82 142.4,216.40 142.8,216.64 143.2,216.79 143.6,216.71 144.0,216.27 144.4,216.40 144.8,216.50 145.2,216.20 145.6,216.62 146.0,216.79 146.4,216.38 146.8,217.08 147.2,216.46 147.6,216.49 148.0,216.49 148.4,216.37 148.8,216.70 149.2,216.60 149.6,217.07 150.0,216.79 150.4,216.77 150.8,216.55 151.2,216.22 151.6,216.59 152.0,216.38 152.4,216.88 152.8,216.61 153.2,217.08 153.6,216.82 154.0,216.85 154.4,216.67 154.8,216.67 155.2,216.79 155.6,216.86 156.0,216.40 156.4,216.74 156.8,217.33 157.2,216.57 157.6,216.51 158.0,216.39 158.4,216.17 158.8,216.90 159.2,216.58 159.6,216.63 160.0,217.06 160.4,217.23 160.8,216.26 161.2,216.79 161.6,216.64 162.0,216.54 162.4,216.50 162.8,216.23 163.2,216.40 163.6,215.53 164.0,214.38 164.4,213.12 164.8,211.50 165.2,210.68 165.6,211.33 166.0,213.24 166.4,214.39 166.8,215.29 167.2,215.66 167.6,216.08 168.0,215.99 168.4,216.37 168.8,216.43 169.2,215.80 169.6,216.39 170.0,216.57 170.4,216.44 170.8,216.12 171.2,216.74 171.6,216.18 172.0,216.02 172.4,216.06 172.8,216.34 173.2,216.61 173.6,216.65 174.0,216.37 174.4,215.96 174.8,216.09 175.2,216.01 175.6,216.19 176.0,215.72 176.4,216.23 176.8,216.35 177.2,216.10 177.6,216.24 178.0,215.82 178.4,215.64 178.8,215.84 179.2,216.30 179.6,216.22 180.0,215.76 180.4,216.17 180.8,215.69 181.2,216.15 181.6,215.79 182.0,215.46 182.4,215.72 182.8,215.20 183.2,215.06 183.6,214.80 184.0,215.17 184.4,214.95 184.8,214.80 185.2,214.56 185.6,214.90 186.0,214.20 186.4,213.92 186.8,214.25 187.2,214.07 187.6,213.51 188.0,212.66 188.4,212.69 188.8,212.71 189.2,212.22 189.6,212.30 190.0,211.11 190.4,211.30 190.8,210.53 191.2,210.65 191.6,209.83 192.0,209.69 192.4,208.78 192.8,208.11 193.2,207.75 193.6,207.46 194.0,206.93 194.4,207.16 194.8,206.85 195.2,206.24 195.6,205.62 196.0,205.67 196.4,205.38 196.8,205.90 197.2,205.58 197.6,205.69 198.0,205.56 198.4,205.28 198.8,205.85 199.2,206.01 199.6,206.73 200.0,206.97 200.4,207.06 200.8,207.53 201.2,208.44 201.6,208.11 202.0,208.49 202.4,209.06 202.8,209.31 203.2,209.76 203.6,210.39 204.0,211.09 204.4,210.46 204.8,211.31 205.2,211.66 205.6,211.95 206.0,212.24 206.4,212.50 206.8,213.16 207.2,213.03 207.6,213.38 208.0,213.66 208.4,213.92 208.8,214.06 209.2,214.59 209.6,214.49 210.0,214.71 210.4,214.81 210.8,214.69 211.2,214.87 211.6,214.93 212.0,215.39 212.4,215.24 212.8,215.24 213.2,215.69 213.6,215.84 214.0,215.27 214.4,216.30 214.8,215.89 215.2,215.90 215.6,216.28 216.0,216.04 216.4,215.89 216.8,216.71 217.2,215.82 217.6,216.12 218.0,216.41 218.4,215.89 218.8,216.18 219.2,216.34 219.6,216.92 220.0,216.01 220.4,216.26 220.8,216.47 221.2,216.31 221.6,215.96 222.0,216.42 222.4,216.34 222.8,216.44 223.2,216.63 223.6,216.60 224.0,216.43 224.4,216.40 224.8,216.01 225.2,216.27 225.6,216.37 226.0,216.19 226.4,216.32 226.8,216.05 227.2,216.70 227.6,216.86 228.0,216.13 228.4,216.33 228.8,216.13 229.2,216.53 229.6,216.27 230.0,216.14 230.4,216.02 230.8,216.08 231.2,215.72 231.6,216.14 232.0,215.70 232.4,215.99 232.8,215.81 233.2,216.01 233.6,215.62 234.0,215.83 234.4,215.19 234.8,215.51 235.2,215.17 235.6,215.16 236.0,214.99 236.4,215.09 236.8,214.11 237.2,214.60 237.6,213.91 238.0,214.48 238.4,213.39 238.8,213.45 239.2,213.04 239.6,213.73 240.0,212.67 240.4,212.81 240.8,212.36 241.2,211.74 241.6,211.87 242.0,211.87 242.4,211.36 242.8,211.39 243.2,210.76 243.6,210.60 244.0,210.24 244.4,210.21 244.8,210.43 245.2,209.81 245.6,209.61 246.0,209.26 246.4,209.13 246.8,209.71 247.2,208.98 247.6,209.07 248.0,209.37 248.4,209.38 248.8,210.19 249.2,209.15 249.6,210.10 250.0,210.41 250.4,210.12 250.8,210.49 251.2,211.03 251.6,211.60 252.0,211.12 252.4,211.17 252.8,212.10 253.2,212.46 253.6,212.14 254.0,211.79 254.4,212.99 254.8,212.67 255.2,213.18 255.6,212.97 256.0,212.98 256.4,213.04 256.8,213.65 257.2,213.70 257.6,212.75 258.0,213.12 258.4,213.91 258.8,213.33 259.2,213.07 259.6,213.47 260.0,213.46 260.4,213.48 260.8,213.40 261.2,213.49 261.6,213.49 262.0,213.77 262.4,213.52 262.8,213.75 263.2,213.88 263.6,214.40 264.0,214.25 264.4,214.24 264.8,214.55 265.2,214.65 265.6,214.98 266.0,214.95 266.4,215.45 266.8,215.47 267.2,215.21 267.6,215.24 268.0,215.73 268.4,215.74 268.8,215.68 269.2,215.40 269.6,215.39 270.0,216.06 270.4,216.20 270.8,216.11 271.2,215.25 271.6,215.41 272.0,214.35 272.4,214.14 272.8,214.20 273.2,214.44 273.6,215.24 274.0,215.43 274.4,216.15 274.8,216.11 275.2,216.85 275.6,216.81 276.0,217.09 276.4,216.97 276.8,216.72 277.2,217.02 277.6,216.84 278.0,217.14 278.4,217.07 278.8,216.72 279.2,217.01 279.6,217.04 280.0,216.95 280.4,217.30 280.8,217.54 281.2,216.97 281.6,216.99 282.0,216.46 282.4,217.07 282.8,216.99 283.2,216.51 283.6,217.21 284.0,217.30 284.4,216.94 284.8,217.05 285.2,216.89 285.6,217.38 286.0,216.75 286.4,217.09 286.8,217.73 287.2,217.20 287.6,217.33 288.0,217.16 288.4,216.88 288.8,217.20 289.2,217.33 289.6,216.94 290.0,217.32 290.4,217.58 290.8,217.54 291.2,216.80 291.6,216.97 292.0,216.80 292.4,217.55 292.8,217.43 293.2,217.46 293.6,217.02 294.0,216.94 294.4,217.30 294.8,217.31 295.2,217.04 295.6,217.33 296.0,217.47 296.4,217.36 296.8,217.01 297.2,216.71 297.6,217.23 298.0,217.35 298.4,217.24 298.8,217.19 299.2,217.12 299.6,217.52 300.0,217.31 300.4,217.36 300.8,217.05 301.2,217.15 301.6,217.37 302.0,217.04 302.4,216.96 302.8,217.22 303.2,217.65 303.6,217.37 304.0,217.72 304.4,217.27 304.8,217.22 305.2,216.92 305.6,217.14 306.0,217.70 306.4,217.39 306.8,217.50 307.2,217.49 307.6,217.29 308.0,217.24 308.4,217.32 308.8,217.48 309.2,217.41 309.6,217.42 310.0,217.33 310.4,217.06 310.8,217.20 311.2,217.01 311.6,217.55 312.0,216.68 312.4,217.21 312.8,217.93 313.2,217.17 313.6,216.94 314.0,217.25 314.4,217.62 314.8,217.21 315.2,217.42 315.6,217.28 316.0,217.14 316.4,218.12 316.8,217.26 317.2,217.09 317.6,217.10 318.0,217.34 318.4,217.34 318.8,217.44 319.2,217.26 319.6,216.82 320.0,217.37 320.4,217.13 320.8,217.13 321.2,216.79 321.6,217.04 322.0,217.00 322.4,217.19 322.8,216.79 323.2,217.20 323.6,217.22 324.0,216.87 324.4,217.00 324.8,216.94 325.2,217.43 325.6,216.46 326.0,217.07 326.4,216.70 326.8,217.04 327.2,217.39 327.6,216.97 328.0,217.18 328.4,216.90 328.8,217.68 329.2,217.39 329.6,217.44 330.0,216.75 330.4,216.81 330.8,217.41 331.2,217.05 331.6,217.03 332.0,217.19 332.4,216.74 332.8,217.30 333.2,217.09 333.6,217.21 334.0,216.88 334.4,217.21 334.8,216.86 335.2,217.32 335.6,217.36 336.0,217.29 336.4,217.18 336.8,217.20 337.2,216.26 337.6,217.24 338.0,216.92 338.4,217.02 338.8,216.90 339.2,216.59 339.6,216.82 340.0,217.14 340.4,217.34 340.8,216.76 341.2,216.67 341.6,217.32 342.0,216.65 342.4,217.47 342.8,216.89 343.2,216.61 343.6,217.12 344.0,217.30 344.4,216.40 344.8,217.22 345.2,216.69 345.6,217.16 346.0,216.62 346.4,216.26 346.8,216.81 347.2,216.91 347.6,217.21 348.0,217.07 348.4,216.75 348.8,216.46 349.2,216.34 349.6,216.37 350.0,216.18 350.4,216.29 350.8,215.61 351.2,216.32 351.6,216.22 352.0,216.89 352.4,216.33 352.8,215.93 353.2,216.16 353.6,215.60 354.0,215.71 354.4,215.29 354.8,216.15 355.2,215.85 355.6,215.28 356.0,215.52 356.4,215.73 356.8,215.52 357.2,215.41 357.6,214.99 358.0,214.97 358.4,215.10 358.8,215.25 359.2,214.68 359.6,214.53 360.0,215.09 360.4,214.43 360.8,214.93 361.2,214.63 361.6,214.75 362.0,214.94 362.4,214.59 362.8,214.58 363.2,214.07 363.6,214.11 364.0,214.47 364.4,214.71 364.8,214.67 365.2,214.93 365.6,214.39 366.0,214.38 366.4,214.64 366.8,214.40 367.2,214.43 367.6,214.20 368.0,214.83 368.4,214.31 368.8,214.82 369.2,214.35 369.6,215.12 370.0,214.60 370.4,215.20 370.8,214.59 371.2,214.98 371.6,215.51 372.0,215.03 372.4,215.34 372.8,215.26 373.2,214.82 373.6,215.62 374.0,215.72 374.4,215.35 374.8,215.89 375.2,215.56 375.6,215.56 376.0,215.90 376.4,215.76 376.8,216.64 377.2,215.61 377.6,216.30 378.0,216.41 378.4,215.62 378.8,215.73 379.2,216.41 379.6,216.15 380.0,216.42 380.4,216.67 380.8,216.27 381.2,216.10 381.6,215.66 382.0,216.51 382.4,216.21 382.8,216.58 383.2,216.57 383.6,216.14 384.0,217.02 384.4,216.86 384.8,216.81 385.2,216.25 385.6,216.48 386.0,216.45 386.4,216.50 386.8,216.31 387.2,216.75 387.6,216.70 388.0,216.75 388.4,216.51 388.8,217.02 389.2,216.72 389.6,215.90 390.0,216.49 390.4,216.66 390.8,216.95 391.2,216.60 391.6,216.62 392.0,216.50 392.4,216.88 392.8,216.57 393.2,216.53 393.6,216.49 394.0,216.86 394.4,216.55 394.8,216.23 395.2,216.88 395.6,216.51 396.0,216.81 396.4,216.81 396.8,217.04 397.2,217.00 397.6,216.55 398.0,216.66 398.4,216.35 398.8,217.18 399.2,216.83 399.6,217.10 400.0,216.62 400.4,216.13 400.8,217.14 401.2,216.73 401.6,216.74 402.0,216.72 402.4,216.89 402.8,216.85 403.2,216.26 403.6,217.01 404.0,216.55 404.4,216.57 404.8,217.18 405.2,216.96 405.6,216.60 406.0,216.18 406.4,216.74 406.8,216.85 407.2,216.67 407.6,216.34 408.0,216.47 408.4,216.34 408.8,216.75 409.2,216.92 409.6,216.97 410.0,216.48 410.4,216.75 410.8,216.84 411.2,216.54 411.6,216.64 412.0,217.27 412.4,216.73 412.8,216.92 413.2,216.55 413.6,216.68 414.0,216.19 414.4,216.66 414.8,217.00 415.2,217.25 415.6,217.00 416.0,216.85 416.4,216.68 416.8,216.49 417.2,216.61 417.6,216.83 418.0,216.43 418.4,216.91 418.8,216.37 419.2,216.15 419.6,216.36 420.0,216.18 420.4,216.26 420.8,216.96 421.2,216.58" fill="none" stroke="#000" stroke-width="1.55" stroke-linejoin="round"/>
<path d="M36.0,260.56 36.4,260.83 36.8,260.85 37.2,260.36 37.6,260.87 38.0,260.60 38.4,260.50 38.8,260.62 39.2,260.09 39.6,260.27 40.0,260.46 40.4,260.66 40.8,260.38 41.2,260.45 41.6,260.75 42.0,260.88 42.4,260.69 42.8,260.83 43.2,260.36 43.6,260.39 44.0,260.56 44.4,260.39 44.8,260.33 45.2,260.93 45.6,260.41 46.0,260.19 46.4,260.60 46.8,260.97 47.2,260.48 47.6,260.80 48.0,260.33 48.4,260.31 48.8,260.25 49.2,260.40 49.6,260.95 50.0,260.11 50.4,260.89 50.8,260.15 51.2,260.36 51.6,260.66 52.0,260.60 52.4,260.50 52.8,259.95 53.2,260.51 53.6,260.12 54.0,261.12 54.4,260.34 54.8,260.45 55.2,260.07 55.6,260.25 56.0,260.02 56.4,260.65 56.8,260.30 57.2,260.52 57.6,260.17 58.0,260.21 58.4,260.71 58.8,260.07 59.2,259.83 59.6,260.44 60.0,260.00 60.4,260.19 60.8,260.57 61.2,260.07 61.6,260.54 62.0,260.10 62.4,260.70 62.8,260.64 63.2,260.13 63.6,260.19 64.0,260.01 64.4,260.29 64.8,260.54 65.2,259.80 65.6,260.45 66.0,259.81 66.4,259.93 66.8,259.66 67.2,260.73 67.6,260.14 68.0,260.18 68.4,259.90 68.8,260.37 69.2,259.47 69.6,260.04 70.0,260.63 70.4,259.88 70.8,259.97 71.2,260.13 71.6,259.68 72.0,259.89 72.4,260.12 72.8,259.87 73.2,259.88 73.6,259.64 74.0,259.78 74.4,259.66 74.8,259.99 75.2,259.73 75.6,259.38 76.0,258.68 76.4,259.47 76.8,259.37 77.2,258.77 77.6,258.31 78.0,258.37 78.4,258.73 78.8,257.91 79.2,257.76 79.6,257.59 80.0,257.43 80.4,256.58 80.8,255.96 81.2,255.16 81.6,254.99 82.0,253.95 82.4,252.63 82.8,251.17 83.2,250.14 83.6,249.21 84.0,247.45 84.4,246.42 84.8,244.73 85.2,243.13 85.6,241.64 86.0,240.03 86.4,238.15 86.8,236.90 87.2,236.41 87.6,234.39 88.0,233.82 88.4,233.76 88.8,233.25 89.2,233.23 89.6,233.57 90.0,234.86 90.4,236.03 90.8,237.36 91.2,238.38 91.6,240.15 92.0,241.13 92.4,243.06 92.8,244.39 93.2,246.17 93.6,247.81 94.0,249.29 94.4,250.02 94.8,251.85 95.2,252.45 95.6,253.28 96.0,254.40 96.4,254.81 96.8,255.89 97.2,256.55 97.6,256.92 98.0,257.55 98.4,257.67 98.8,258.06 99.2,257.91 99.6,258.53 100.0,258.45 100.4,258.70 100.8,258.91 101.2,259.08 101.6,258.64 102.0,258.71 102.4,259.10 102.8,259.34 103.2,259.31 103.6,259.45 104.0,259.54 104.4,259.28 104.8,259.08 105.2,258.72 105.6,258.65 106.0,258.68 106.4,258.75 106.8,258.59 107.2,258.36 107.6,258.13 108.0,258.14 108.4,257.79 108.8,257.57 109.2,257.31 109.6,256.81 110.0,256.39 110.4,256.54 110.8,256.24 111.2,255.79 111.6,255.49 112.0,256.01 112.4,254.96 112.8,254.95 113.2,254.96 113.6,254.49 114.0,254.83 114.4,255.34 114.8,255.18 115.2,255.24 115.6,255.41 116.0,255.49 116.4,255.98 116.8,255.94 117.2,256.15 117.6,256.60 118.0,257.12 118.4,257.26 118.8,257.64 119.2,257.17 119.6,258.34 120.0,258.91 120.4,258.88 120.8,258.66 121.2,258.72 121.6,259.23 122.0,259.06 122.4,259.70 122.8,259.49 123.2,260.04 123.6,260.26 124.0,259.41 124.4,260.15 124.8,259.95 125.2,259.82 125.6,260.11 126.0,260.27 126.4,260.67 126.8,260.00 127.2,260.76 127.6,261.07 128.0,260.70 128.4,260.71 128.8,260.58 129.2,260.27 129.6,260.74 130.0,260.64 130.4,260.55 130.8,260.71 131.2,259.70 131.6,259.21 132.0,259.55 132.4,259.19 132.8,259.80 133.2,260.42 133.6,260.57 134.0,261.06 134.4,260.84 134.8,261.45 135.2,261.42 135.6,261.24 136.0,260.94 136.4,261.25 136.8,261.33 137.2,260.83 137.6,261.24 138.0,261.37 138.4,261.25 138.8,261.65 139.2,261.57 139.6,261.02 140.0,261.31 140.4,261.06 140.8,261.48 141.2,261.10 141.6,261.62 142.0,261.49 142.4,261.67 142.8,261.38 143.2,261.03 143.6,261.95 144.0,261.43 144.4,261.88 144.8,261.63 145.2,261.72 145.6,262.06 146.0,261.66 146.4,261.98 146.8,261.19 147.2,261.87 147.6,261.57 148.0,261.62 148.4,261.68 148.8,261.79 149.2,262.18 149.6,261.21 150.0,261.76 150.4,261.55 150.8,262.08 151.2,261.63 151.6,261.88 152.0,261.64 152.4,261.94 152.8,262.04 153.2,261.64 153.6,261.77 154.0,261.35 154.4,261.84 154.8,261.99 155.2,261.59 155.6,262.06 156.0,261.17 156.4,261.23 156.8,261.35 157.2,261.60 157.6,261.74 158.0,261.71 158.4,261.71 158.8,261.93 159.2,261.59 159.6,261.36 160.0,261.36 160.4,262.29 160.8,261.03 161.2,261.62 161.6,262.06 162.0,261.77 162.4,261.36 162.8,261.51 163.2,261.56 163.6,261.25 164.0,259.95 164.4,259.40 164.8,258.25 165.2,258.02 165.6,258.56 166.0,259.08 166.4,259.77 166.8,260.99 167.2,261.77 167.6,261.64 168.0,261.59 168.4,262.23 168.8,261.28 169.2,261.84 169.6,261.43 170.0,261.60 170.4,261.61 170.8,262.01 171.2,261.32 171.6,261.42 172.0,261.12 172.4,261.69 172.8,261.42 173.2,261.65 173.6,261.22 174.0,261.41 174.4,261.79 174.8,261.43 175.2,261.64 175.6,261.59 176.0,261.33 176.4,260.97 176.8,261.66 177.2,261.41 177.6,261.61 178.0,260.75 178.4,260.82 178.8,260.65 179.2,260.97 179.6,261.47 180.0,261.29 180.4,261.08 180.8,261.08 181.2,261.20 181.6,260.84 182.0,260.97 182.4,260.83 182.8,260.10 183.2,260.51 183.6,260.91 184.0,260.31 184.4,260.27 184.8,260.01 185.2,259.90 185.6,260.20 186.0,259.65 186.4,259.26 186.8,258.48 187.2,258.98 187.6,258.36 188.0,258.15 188.4,258.62 188.8,258.32 189.2,257.29 189.6,257.74 190.0,257.30 190.4,256.60 190.8,256.66 191.2,255.62 191.6,255.35 192.0,254.88 192.4,254.57 192.8,254.72 193.2,253.70 193.6,253.36 194.0,253.04 194.4,253.01 194.8,252.55 195.2,252.60 195.6,251.93 196.0,251.59 196.4,251.68 196.8,251.77 197.2,251.49 197.6,251.89 198.0,252.42 198.4,251.91 198.8,252.28 199.2,252.89 199.6,252.60 200.0,252.83 200.4,253.07 200.8,253.81 201.2,254.17 201.6,254.32 202.0,254.72 202.4,255.40 202.8,255.63 203.2,255.33 203.6,256.05 204.0,256.41 204.4,256.91 204.8,256.96 205.2,257.15 205.6,257.49 206.0,257.41 206.4,258.17 206.8,258.27 207.2,258.82 207.6,258.64 208.0,259.02 208.4,259.08 208.8,259.25 209.2,259.93 209.6,259.77 210.0,260.18 210.4,259.89 210.8,260.36 211.2,259.98 211.6,260.43 212.0,260.53 212.4,260.92 212.8,260.89 213.2,260.87 213.6,261.22 214.0,261.10 214.4,261.26 214.8,261.37 215.2,261.19 215.6,261.16 216.0,261.37 216.4,261.20 216.8,261.45 217.2,261.68 217.6,261.63 218.0,261.31 218.4,261.08 218.8,261.44 219.2,261.43 219.6,261.79 220.0,261.39 220.4,261.45 220.8,261.72 221.2,261.39 221.6,261.49 222.0,262.01 222.4,261.96 222.8,261.72 223.2,261.62 223.6,261.27 224.0,261.70 224.4,261.56 224.8,261.60 225.2,261.39 225.6,261.53 226.0,261.47 226.4,261.60 226.8,261.90 227.2,261.59 227.6,261.01 228.0,261.19 228.4,261.00 228.8,261.20 229.2,261.55 229.6,261.48 230.0,261.17 230.4,261.38 230.8,261.05 231.2,260.82 231.6,260.78 232.0,260.88 232.4,261.46 232.8,260.62 233.2,261.27 233.6,261.22 234.0,260.71 234.4,260.65 234.8,260.39 235.2,260.44 235.6,260.51 236.0,260.20 236.4,260.33 236.8,260.23 237.2,259.82 237.6,259.64 238.0,259.34 238.4,259.26 238.8,258.64 239.2,258.84 239.6,258.55 240.0,258.00 240.4,258.59 240.8,257.46 241.2,257.21 241.6,257.26 242.0,256.36 242.4,256.40 242.8,255.92 243.2,255.80 243.6,255.77 244.0,255.65 244.4,255.63 244.8,255.34 245.2,255.25 245.6,254.93 246.0,254.51 246.4,254.87 246.8,254.37 247.2,254.33 247.6,254.97 248.0,254.83 248.4,254.78 248.8,255.07 249.2,255.27 249.6,254.84 250.0,255.41 250.4,255.33 250.8,255.92 251.2,255.94 251.6,256.75 252.0,256.75 252.4,256.61 252.8,257.05 253.2,256.92 253.6,257.47 254.0,257.79 254.4,257.88 254.8,257.42 255.2,258.00 255.6,258.35 256.0,258.40 256.4,258.72 256.8,258.11 257.2,258.68 257.6,258.39 258.0,258.67 258.4,258.76 258.8,258.86 259.2,258.52 259.6,258.75 260.0,258.39 260.4,258.35 260.8,258.93 261.2,258.80 261.6,258.40 262.0,258.68 262.4,258.99 262.8,259.51 263.2,259.46 263.6,259.50 264.0,258.89 264.4,259.49 264.8,259.78 265.2,259.89 265.6,260.04 266.0,260.00 266.4,260.69 266.8,260.76 267.2,260.45 267.6,260.34 268.0,261.32 268.4,260.71 268.8,261.32 269.2,261.62 269.6,260.92 270.0,261.35 270.4,261.22 270.8,261.46 271.2,261.29 271.6,261.52 272.0,260.83 272.4,260.44 272.8,260.82 273.2,260.76 273.6,261.15 274.0,262.23 274.4,261.60 274.8,261.83 275.2,262.05 275.6,261.79 276.0,261.53 276.4,262.44 276.8,261.96 277.2,262.05 277.6,262.11 278.0,261.96 278.4,261.95 278.8,262.31 279.2,262.95 279.6,262.50 280.0,262.52 280.4,261.90 280.8,262.32 281.2,262.01 281.6,262.57 282.0,262.30 282.4,262.38 282.8,262.35 283.2,262.22 283.6,261.97 284.0,262.57 284.4,262.02 284.8,262.09 285.2,262.34 285.6,262.24 286.0,262.51 286.4,262.73 286.8,262.52 287.2,262.52 287.6,262.47 288.0,262.71 288.4,261.96 288.8,262.59 289.2,262.23 289.6,262.15 290.0,262.50 290.4,262.40 290.8,262.68 291.2,262.83 291.6,261.87 292.0,262.51 292.4,263.08 292.8,262.78 293.2,262.95 293.6,262.58 294.0,262.15 294.4,262.24 294.8,262.76 295.2,262.83 295.6,262.36 296.0,262.50 296.4,262.65 296.8,262.09 297.2,262.49 297.6,263.04 298.0,263.21 298.4,262.57 298.8,263.11 299.2,262.46 299.6,262.38 300.0,261.99 300.4,262.88 300.8,262.50 301.2,263.26 301.6,262.69 302.0,262.65 302.4,262.09 302.8,263.01 303.2,262.49 303.6,262.54 304.0,261.96 304.4,262.84 304.8,262.85 305.2,262.40 305.6,262.59 306.0,262.68 306.4,262.83 306.8,262.59 307.2,263.04 307.6,262.48 308.0,262.38 308.4,262.41 308.8,261.83 309.2,262.31 309.6,262.82 310.0,262.60 310.4,262.30 310.8,262.62 311.2,261.95 311.6,262.43 312.0,262.66 312.4,262.70 312.8,262.29 313.2,262.75 313.6,263.02 314.0,262.37 314.4,262.69 314.8,262.05 315.2,261.93 315.6,262.65 316.0,262.48 316.4,262.52 316.8,262.30 317.2,262.37 317.6,262.68 318.0,262.93 318.4,262.38 318.8,261.98 319.2,262.79 319.6,262.60 320.0,262.62 320.4,262.47 320.8,263.07 321.2,262.43 321.6,262.55 322.0,261.88 322.4,262.24 322.8,262.20 323.2,262.38 323.6,262.48 324.0,262.17 324.4,262.86 324.8,262.07 325.2,262.24 325.6,262.42 326.0,262.00 326.4,262.51 326.8,262.52 327.2,262.25 327.6,262.87 328.0,262.35 328.4,262.40 328.8,262.04 329.2,261.84 329.6,262.13 330.0,262.21 330.4,262.16 330.8,262.50 331.2,261.61 331.6,261.96 332.0,261.76 332.4,262.64 332.8,262.10 333.2,262.10 333.6,261.93 334.0,262.49 334.4,262.11 334.8,262.28 335.2,261.64 335.6,262.54 336.0,262.31 336.4,262.35 336.8,262.53 337.2,262.12 337.6,262.12 338.0,262.36 338.4,262.27 338.8,262.08 339.2,262.15 339.6,261.99 340.0,262.32 340.4,262.37 340.8,262.10 341.2,262.62 341.6,261.65 342.0,262.01 342.4,262.54 342.8,261.93 343.2,261.59 343.6,262.42 344.0,262.17 344.4,261.67 344.8,262.21 345.2,261.69 345.6,261.59 346.0,261.91 346.4,261.80 346.8,261.61 347.2,261.80 347.6,261.60 348.0,261.88 348.4,261.84 348.8,262.03 349.2,261.67 349.6,261.40 350.0,261.38 350.4,261.65 350.8,262.13 351.2,261.90 351.6,261.45 352.0,261.86 352.4,261.24 352.8,261.81 353.2,261.38 353.6,261.66 354.0,261.57 354.4,261.28 354.8,261.40 355.2,260.95 355.6,261.18 356.0,261.45 356.4,262.23 356.8,261.22 357.2,260.98 357.6,260.60 358.0,261.11 358.4,260.28 358.8,260.44 359.2,260.69 359.6,260.17 360.0,260.86 360.4,260.65 360.8,260.10 361.2,260.01 361.6,259.71 362.0,259.59 362.4,260.02 362.8,259.98 363.2,259.81 363.6,259.70 364.0,259.38 364.4,259.55 364.8,258.95 365.2,259.29 365.6,259.62 366.0,259.51 366.4,258.94 366.8,258.92 367.2,259.35 367.6,259.42 368.0,258.47 368.4,258.75 368.8,258.92 369.2,259.19 369.6,258.62 370.0,259.05 370.4,258.81 370.8,259.60 371.2,259.09 371.6,258.98 372.0,258.98 372.4,259.43 372.8,259.40 373.2,258.97 373.6,259.41 374.0,259.06 374.4,259.30 374.8,259.23 375.2,259.30 375.6,259.57 376.0,259.57 376.4,260.07 376.8,260.23 377.2,260.02 377.6,259.85 378.0,260.47 378.4,259.75 378.8,259.85 379.2,260.66 379.6,260.71 380.0,260.87 380.4,260.59 380.8,260.36 381.2,260.63 381.6,260.98 382.0,260.66 382.4,260.73 382.8,260.58 383.2,260.69 383.6,261.29 384.0,261.22 384.4,260.80 384.8,260.86 385.2,261.04 385.6,261.38 386.0,260.92 386.4,261.23 386.8,260.70 387.2,260.97 387.6,261.46 388.0,261.61 388.4,261.05 388.8,261.18 389.2,261.63 389.6,261.31 390.0,261.28 390.4,261.59 390.8,261.51 391.2,261.78 391.6,261.70 392.0,261.32 392.4,261.45 392.8,261.48 393.2,261.12 393.6,261.23 394.0,261.78 394.4,261.07 394.8,261.80 395.2,261.60 395.6,261.48 396.0,261.68 396.4,261.66 396.8,261.87 397.2,261.42 397.6,261.47 398.0,261.46 398.4,262.06 398.8,261.80 399.2,261.27 399.6,261.44 400.0,261.33 400.4,261.54 400.8,261.59 401.2,262.18 401.6,261.02 402.0,261.82 402.4,261.65 402.8,261.33 403.2,261.49 403.6,261.39 404.0,261.54 404.4,261.81 404.8,261.10 405.2,261.89 405.6,261.41 406.0,261.94 406.4,261.63 406.8,261.86 407.2,261.67 407.6,261.81 408.0,261.52 408.4,261.27 408.8,261.69 409.2,261.70 409.6,262.09 410.0,260.93 410.4,261.44 410.8,261.79 411.2,261.14 411.6,261.42 412.0,262.08 412.4,261.88 412.8,261.23 413.2,261.88 413.6,261.81 414.0,261.69 414.4,261.58 414.8,261.53 415.2,261.22 415.6,261.32 416.0,261.66 416.4,261.49 416.8,261.97 417.2,261.35 417.6,260.77 418.0,261.35 418.4,261.52 418.8,261.54 419.2,261.45 419.6,261.20 420.0,261.85 420.4,261.24 420.8,261.62 421.2,261.34" fill="none" stroke="#000" stroke-width="1.55" stroke-linejoin="round"/>
<path d="M36.0,308.37 36.4,309.10 36.8,308.00 37.2,308.46 37.6,308.82 38.0,308.60 38.4,308.91 38.8,308.67 39.2,308.58 39.6,309.31 40.0,308.64 40.4,308.66 40.8,308.40 41.2,308.49 41.6,308.88 42.0,308.86 42.4,308.70 42.8,308.50 43.2,308.89 43.6,308.22 44.0,308.60 44.4,308.63 44.8,308.46 45.2,308.74 45.6,308.51 46.0,308.47 46.4,309.20 46.8,308.90 47.2,309.03 47.6,308.70 48.0,308.96 48.4,308.91 48.8,309.03 49.2,309.35 49.6,308.62 50.0,308.75 50.4,308.67 50.8,307.69 51.2,308.29 51.6,308.68 52.0,308.85 52.4,308.51 52.8,308.99 53.2,309.03 53.6,308.55 54.0,309.06 54.4,309.15 54.8,308.79 55.2,308.38 55.6,309.06 56.0,308.60 56.4,308.54 56.8,308.67 57.2,308.49 57.6,308.94 58.0,308.85 58.4,308.97 58.8,308.79 59.2,308.40 59.6,308.57 60.0,308.85 60.4,308.49 60.8,309.42 61.2,308.53 61.6,308.42 62.0,308.90 62.4,308.78 62.8,308.56 63.2,308.50 63.6,308.67 64.0,308.78 64.4,308.75 64.8,308.44 65.2,308.64 65.6,308.74 66.0,308.71 66.4,307.62 66.8,308.23 67.2,308.25 67.6,308.39 68.0,308.49 68.4,308.68 68.8,308.58 69.2,308.36 69.6,308.38 70.0,308.85 70.4,308.17 70.8,308.40 71.2,308.73 71.6,308.37 72.0,307.67 72.4,308.32 72.8,308.08 73.2,308.12 73.6,308.41 74.0,308.21 74.4,307.96 74.8,308.24 75.2,308.06 75.6,307.90 76.0,307.88 76.4,307.79 76.8,307.52 77.2,307.37 77.6,307.37 78.0,306.93 78.4,306.65 78.8,307.14 79.2,306.43 79.6,306.17 80.0,305.75 80.4,305.35 80.8,304.82 81.2,304.23 81.6,303.30 82.0,303.01 82.4,301.68 82.8,301.19 83.2,299.29 83.6,298.38 84.0,297.71 84.4,296.08 84.8,294.57 85.2,293.46 85.6,291.66 86.0,290.58 86.4,288.61 86.8,287.87 87.2,286.72 87.6,286.14 88.0,285.55 88.4,284.63 88.8,285.18 89.2,284.70 89.6,284.72 90.0,285.32 90.4,287.32 90.8,287.96 91.2,289.04 91.6,290.34 92.0,291.62 92.4,293.71 92.8,294.71 93.2,296.60 93.6,297.35 94.0,297.98 94.4,300.03 94.8,300.76 95.2,301.76 95.6,303.14 96.0,303.40 96.4,304.49 96.8,304.76 97.2,305.06 97.6,305.86 98.0,305.93 98.4,306.76 98.8,306.95 99.2,306.92 99.6,307.26 100.0,307.40 100.4,307.29 100.8,307.71 101.2,307.48 101.6,307.78 102.0,307.38 102.4,307.71 102.8,307.81 103.2,307.48 103.6,307.57 104.0,307.51 104.4,307.83 104.8,307.37 105.2,307.62 105.6,307.84 106.0,307.40 106.4,306.73 106.8,307.07 107.2,307.17 107.6,306.61 108.0,306.80 108.4,306.45 108.8,306.16 109.2,305.72 109.6,305.40 110.0,305.21 110.4,305.03 110.8,304.89 111.2,304.61 111.6,304.17 112.0,304.05 112.4,303.95 112.8,303.23 113.2,303.36 113.6,303.28 114.0,303.43 114.4,303.45 114.8,303.54 115.2,303.50 115.6,304.10 116.0,304.20 116.4,303.90 116.8,304.62 117.2,304.58 117.6,305.65 118.0,305.34 118.4,305.64 118.8,306.05 119.2,306.24 119.6,306.53 120.0,307.22 120.4,307.10 120.8,307.50 121.2,307.79 121.6,307.39 122.0,308.31 122.4,308.19 122.8,308.41 123.2,308.02 123.6,308.61 124.0,308.59 124.4,308.42 124.8,309.29 125.2,308.88 125.6,308.72 126.0,308.90 126.4,309.15 126.8,309.26 127.2,309.15 127.6,309.37 128.0,309.48 128.4,308.76 128.8,309.01 129.2,308.91 129.6,309.24 130.0,309.64 130.4,309.45 130.8,309.01 131.2,309.25 131.6,309.65 132.0,309.24 132.4,309.39 132.8,309.53 133.2,308.96 133.6,309.72 134.0,309.62 134.4,309.71 134.8,309.30 135.2,309.39 135.6,309.46 136.0,309.72 136.4,309.70 136.8,309.74 137.2,310.23 137.6,310.12 138.0,309.58 138.4,309.62 138.8,310.31 139.2,309.76 139.6,310.26 140.0,310.35 140.4,309.77 140.8,309.87 141.2,309.99 141.6,309.75 142.0,309.74 142.4,309.93 142.8,310.30 143.2,309.96 143.6,310.05 144.0,310.00 144.4,309.77 144.8,310.59 145.2,309.54 145.6,310.04 146.0,310.40 146.4,309.88 146.8,310.46 147.2,310.66 147.6,310.09 148.0,310.41 148.4,310.07 148.8,310.54 149.2,310.45 149.6,310.50 150.0,310.85 150.4,310.59 150.8,310.84 151.2,310.63 151.6,310.12 152.0,310.52 152.4,310.58 152.8,310.04 153.2,310.81 153.6,310.46 154.0,310.54 154.4,310.18 154.8,310.45 155.2,310.51 155.6,310.33 156.0,310.44 156.4,309.82 156.8,310.79 157.2,310.09 157.6,309.79 158.0,310.12 158.4,310.15 158.8,310.54 159.2,310.12 159.6,310.45 160.0,310.10 160.4,310.98 160.8,310.51 161.2,310.90 161.6,310.06 162.0,310.52 162.4,310.06 162.8,310.49 163.2,310.51 163.6,309.86 164.0,309.98 164.4,309.97 164.8,309.87 165.2,310.07 165.6,310.00 166.0,309.86 166.4,310.28 166.8,310.40 167.2,309.87 167.6,310.07 168.0,310.22 168.4,310.14 168.8,310.00 169.2,310.41 169.6,310.41 170.0,310.35 170.4,310.09 170.8,310.69 171.2,310.60 171.6,309.99 172.0,310.05 172.4,310.40 172.8,309.83 173.2,310.15 173.6,310.03 174.0,309.80 174.4,309.92 174.8,309.52 175.2,309.79 175.6,309.36 176.0,310.53 176.4,310.29 176.8,310.18 177.2,309.90 177.6,310.06 178.0,310.10 178.4,310.00 178.8,309.93 179.2,309.38 179.6,309.71 180.0,309.39 180.4,309.16 180.8,309.12 181.2,309.50 181.6,309.60 182.0,308.85 182.4,309.65 182.8,309.48 183.2,308.87 183.6,308.74 184.0,308.74 184.4,308.91 184.8,308.39 185.2,308.04 185.6,308.28 186.0,307.43 186.4,307.85 186.8,307.93 187.2,307.47 187.6,307.36 188.0,307.01 188.4,306.80 188.8,306.34 189.2,305.75 189.6,305.58 190.0,305.27 190.4,305.28 190.8,304.99 191.2,304.25 191.6,303.51 192.0,303.09 192.4,302.82 192.8,302.83 193.2,302.11 193.6,301.59 194.0,300.99 194.4,301.08 194.8,300.58 195.2,300.19 195.6,299.98 196.0,300.23 196.4,299.58 196.8,300.03 197.2,299.90 197.6,299.61 198.0,299.96 198.4,299.84 198.8,299.85 199.2,300.25 199.6,300.35 200.0,301.05 200.4,301.23 200.8,301.72 201.2,302.13 201.6,301.38 202.0,302.69 202.4,302.45 202.8,303.36 203.2,303.42 203.6,304.04 204.0,304.73 204.4,304.21 204.8,305.07 205.2,305.31 205.6,305.11 206.0,306.11 206.4,306.23 206.8,306.34 207.2,306.54 207.6,307.89 208.0,307.11 208.4,306.93 208.8,307.37 209.2,307.72 209.6,307.89 210.0,308.13 210.4,308.01 210.8,308.59 211.2,308.43 211.6,308.30 212.0,308.55 212.4,308.77 212.8,309.20 213.2,309.17 213.6,309.01 214.0,309.18 214.4,309.29 214.8,309.85 215.2,309.15 215.6,309.49 216.0,309.60 216.4,309.16 216.8,309.51 217.2,309.53 217.6,309.37 218.0,309.68 218.4,309.83 218.8,309.87 219.2,309.52 219.6,309.64 220.0,310.25 220.4,309.29 220.8,309.67 221.2,309.86 221.6,309.66 222.0,309.80 222.4,309.67 222.8,309.83 223.2,309.98 223.6,309.56 224.0,309.67 224.4,309.60 224.8,309.50 225.2,309.60 225.6,309.28 226.0,309.79 226.4,310.05 226.8,310.04 227.2,309.90 227.6,309.26 228.0,309.94 228.4,309.29 228.8,309.45 229.2,309.96 229.6,309.11 230.0,309.61 230.4,309.42 230.8,309.26 231.2,309.01 231.6,309.33 232.0,309.03 232.4,309.39 232.8,309.38 233.2,308.57 233.6,308.74 234.0,308.71 234.4,308.37 234.8,308.29 235.2,308.51 235.6,308.31 236.0,307.77 236.4,307.94 236.8,308.09 237.2,307.44 237.6,307.35 238.0,307.86 238.4,307.59 238.8,306.56 239.2,306.42 239.6,306.67 240.0,306.00 240.4,306.01 240.8,305.70 241.2,305.72 241.6,304.59 242.0,304.41 242.4,304.41 242.8,304.77 243.2,304.18 243.6,303.48 244.0,303.85 244.4,303.69 244.8,303.21 245.2,303.00 245.6,303.06 246.0,303.16 246.4,302.78 246.8,302.84 247.2,302.66 247.6,302.60 248.0,302.52 248.4,302.95 248.8,302.92 249.2,303.10 249.6,303.61 250.0,303.68 250.4,304.00 250.8,303.54 251.2,304.36 251.6,304.27 252.0,304.43 252.4,304.64 252.8,305.42 253.2,305.51 253.6,305.27 254.0,305.32 254.4,305.80 254.8,305.81 255.2,306.53 255.6,305.76 256.0,305.76 256.4,306.28 256.8,306.42 257.2,306.51 257.6,306.72 258.0,307.12 258.4,306.47 258.8,306.43 259.2,306.11 259.6,306.68 260.0,306.87 260.4,306.58 260.8,307.01 261.2,306.72 261.6,307.17 262.0,306.90 262.4,306.57 262.8,306.77 263.2,306.61 263.6,306.65 264.0,307.32 264.4,307.60 264.8,308.03 265.2,307.60 265.6,307.68 266.0,307.57 266.4,308.29 266.8,308.25 267.2,308.11 267.6,308.59 268.0,308.68 268.4,308.12 268.8,308.96 269.2,308.90 269.6,308.85 270.0,308.94 270.4,309.63 270.8,309.66 271.2,309.81 271.6,309.05 272.0,309.25 272.4,309.74 272.8,309.20 273.2,309.38 273.6,309.12 274.0,310.18 274.4,309.99 274.8,309.85 275.2,309.81 275.6,309.66 276.0,309.69 276.4,309.99 276.8,309.63 277.2,310.19 277.6,309.72 278.0,309.63 278.4,310.25 278.8,309.85 279.2,310.06 279.6,309.80 280.0,309.29 280.4,310.08 280.8,309.56 281.2,310.24 281.6,309.51 282.0,309.43 282.4,310.04 282.8,310.08 283.2,310.00 283.6,309.63 284.0,310.22 284.4,309.57 284.8,309.85 285.2,309.77 285.6,309.88 286.0,310.23 286.4,309.82 286.8,310.16 287.2,310.20 287.6,309.53 288.0,309.68 288.4,309.90 288.8,309.85 289.2,310.10 289.6,309.47 290.0,310.22 290.4,310.23 290.8,309.97 291.2,309.64 291.6,310.03 292.0,309.88 292.4,310.19 292.8,310.00 293.2,310.23 293.6,309.91 294.0,310.44 294.4,309.39 294.8,309.75 295.2,310.17 295.6,309.61 296.0,310.24 296.4,309.70 296.8,310.06 297.2,309.78 297.6,309.91 298.0,310.09 298.4,310.01 298.8,309.93 299.2,310.64 299.6,310.04 300.0,309.77 300.4,310.30 300.8,310.27 301.2,310.38 301.6,310.53 302.0,309.77 302.4,310.32 302.8,310.34 303.2,310.02 303.6,310.09 304.0,309.18 304.4,309.85 304.8,310.51 305.2,309.51 305.6,309.86 306.0,310.08 306.4,310.16 306.8,310.45 307.2,309.50 307.6,310.00 308.0,310.23 308.4,309.62 308.8,309.97 309.2,310.51 309.6,310.35 310.0,310.13 310.4,309.24 310.8,309.93 311.2,310.07 311.6,309.88 312.0,309.94 312.4,310.82 312.8,309.89 313.2,309.68 313.6,310.01 314.0,309.85 314.4,309.85 314.8,309.91 315.2,310.15 315.6,310.00 316.0,309.59 316.4,309.88 316.8,310.05 317.2,309.78 317.6,310.23 318.0,310.13 318.4,309.63 318.8,309.99 319.2,310.45 319.6,310.33 320.0,309.87 320.4,310.14 320.8,309.69 321.2,309.47 321.6,310.03 322.0,309.94 322.4,310.01 322.8,309.85 323.2,309.95 323.6,309.71 324.0,309.98 324.4,310.08 324.8,309.82 325.2,310.07 325.6,309.34 326.0,309.61 326.4,310.23 326.8,310.31 327.2,309.89 327.6,309.78 328.0,309.45 328.4,309.90 328.8,310.01 329.2,309.38 329.6,309.94 330.0,309.92 330.4,309.90 330.8,309.46 331.2,309.92 331.6,309.34 332.0,310.17 332.4,309.79 332.8,309.42 333.2,310.12 333.6,310.06 334.0,309.55 334.4,310.34 334.8,309.44 335.2,309.80 335.6,310.04 336.0,309.07 336.4,309.98 336.8,309.67 337.2,309.68 337.6,309.38 338.0,309.76 338.4,309.35 338.8,309.39 339.2,309.52 339.6,309.30 340.0,310.07 340.4,309.25 340.8,309.41 341.2,309.52 341.6,309.60 342.0,309.81 342.4,309.81 342.8,309.49 343.2,309.46 343.6,309.56 344.0,309.77 344.4,309.73 344.8,309.37 345.2,308.93 345.6,310.09 346.0,309.75 346.4,309.54 346.8,309.55 347.2,309.29 347.6,309.14 348.0,309.31 348.4,309.32 348.8,309.18 349.2,308.93 349.6,309.23 350.0,309.45 350.4,309.13 350.8,309.25 351.2,308.63 351.6,309.12 352.0,309.12 352.4,308.78 352.8,308.60 353.2,309.16 353.6,308.78 354.0,309.10 354.4,308.81 354.8,309.06 355.2,308.74 355.6,308.36 356.0,308.71 356.4,308.59 356.8,308.81 357.2,308.45 357.6,308.40 358.0,308.70 358.4,308.72 358.8,308.54 359.2,308.55 359.6,308.33 360.0,308.35 360.4,308.31 360.8,308.11 361.2,307.94 361.6,307.90 362.0,308.46 362.4,307.73 362.8,307.59 363.2,307.49 363.6,307.52 364.0,307.54 364.4,307.10 364.8,306.82 365.2,307.41 365.6,306.84 366.0,307.33 366.4,307.27 366.8,307.53 367.2,307.66 367.6,307.29 368.0,307.04 368.4,306.87 368.8,306.99 369.2,307.25 369.6,306.69 370.0,307.32 370.4,307.34 370.8,307.57 371.2,307.35 371.6,307.52 372.0,307.34 372.4,307.47 372.8,307.17 373.2,307.76 373.6,308.22 374.0,307.89 374.4,308.01 374.8,307.70 375.2,308.43 375.6,307.88 376.0,308.38 376.4,308.24 376.8,308.00 377.2,308.61 377.6,308.37 378.0,308.47 378.4,308.60 378.8,308.51 379.2,308.45 379.6,308.73 380.0,308.53 380.4,308.70 380.8,308.53 381.2,308.34 381.6,308.60 382.0,308.68 382.4,308.85 382.8,309.20 383.2,308.42 383.6,308.96 384.0,308.32 384.4,308.67 384.8,308.84 385.2,308.37 385.6,308.50 386.0,309.07 386.4,309.07 386.8,309.03 387.2,308.84 387.6,309.68 388.0,309.05 388.4,308.86 388.8,309.58 389.2,309.29 389.6,309.02 390.0,309.46 390.4,309.18 390.8,309.32 391.2,309.21 391.6,308.86 392.0,309.42 392.4,309.20 392.8,308.87 393.2,308.94 393.6,309.43 394.0,309.06 394.4,309.17 394.8,309.35 395.2,309.20 395.6,308.74 396.0,309.34 396.4,309.43 396.8,309.41 397.2,309.62 397.6,309.27 398.0,309.38 398.4,309.61 398.8,309.08 399.2,309.65 399.6,309.65 400.0,309.38 400.4,309.68 400.8,309.40 401.2,308.91 401.6,309.48 402.0,309.25 402.4,309.27 402.8,309.20 403.2,309.53 403.6,309.30 404.0,308.95 404.4,309.28 404.8,309.35 405.2,308.94 405.6,309.02 406.0,309.03 406.4,308.97 406.8,309.23 407.2,309.42 407.6,309.66 408.0,309.46 408.4,309.41 408.8,309.44 409.2,309.50 409.6,309.01 410.0,309.31 410.4,309.21 410.8,309.08 411.2,308.98 411.6,308.97 412.0,309.03 412.4,308.76 412.8,309.25 413.2,309.09 413.6,309.13 414.0,309.19 414.4,309.29 414.8,308.92 415.2,309.06 415.6,308.63 416.0,308.46 416.4,308.53 416.8,309.50 417.2,308.56 417.6,309.20 418.0,309.48 418.4,308.93 418.8,309.52 419.2,309.57 419.6,309.32 420.0,309.72 420.4,309.22 420.8,308.84 421.2,309.19" fill="none" stroke="#000" stroke-width="1.55" stroke-linejoin="round"/>
<text x="425" y="54.1" class="t9">1%Ag-5%Ni/CeO2·ZrO2 (1:2)</text>
<text x="425" y="100.9" class="t9">1%Pt-5%Ni/CeO2·ZrO2 (1:2)</text>
<text x="425" y="147.2" class="t9">1%Pd-5%Ni/CeO2·ZrO2 (1:2)</text>
<text x="425" y="201.1" class="t9">1%Ru-5%Ni/CeO2·ZrO2 (1:2)</text>
<text x="425" y="251.4" class="t9">5%Ni/CeO2·ZrO2 (1:2)</text>
<text x="425" y="296.4" class="t9">CeO2·ZrO2 (1:2)</text>
<rect x="124.5" y="6.5" width="238" height="18" fill="#fff" stroke="#d4d4d4" stroke-width="1"/>
<path d="M125,24.8H363" stroke="#a8a8a8" stroke-width="1.4"/>
<circle cx="133.3" cy="16.2" r="3.5" fill="#000"/>
<text x="143" y="19.4" class="t9">NiO</text>
<rect x="186.00" y="13.10" width="6" height="6" fill="#000"/>
<text x="198.6" y="18.9" class="t9">CeO2</text>
<polygon points="248.44,11.50 243.22,17.29 250.84,18.91" fill="#000"/>
<text x="258" y="17.9" class="t9">ZrO2 -T</text>
<polygon points="314.00,10.50 308.43,16.68 316.57,18.41" fill="none" stroke="#000" stroke-width="1"/>
<text x="322.8" y="18.1" class="t9">ZrO2 -M</text>
<polygon points="89.12,34.01 83.44,40.31 91.74,42.08" fill="none" stroke="#000" stroke-width="1"/>
<rect x="85.30" y="45.15" width="6.3" height="6.3" fill="#000"/>
<polygon points="114.58,35.20 109.13,41.25 117.09,42.94" fill="#000"/>
<polygon points="114.82,45.91 109.14,52.21 117.44,53.98" fill="none" stroke="#000" stroke-width="1"/>
<rect x="110.50" y="57.00" width="6.3" height="6.3" fill="#000"/>
<circle cx="130.9" cy="60.1" r="3.6" fill="#000"/>
<circle cx="165.0" cy="60.1" r="3.6" fill="#000"/>
<circle cx="272.6" cy="61.6" r="3.6" fill="#000"/>
<polygon points="197.78,29.90 192.33,35.95 200.29,37.64" fill="#000"/>
<polygon points="197.82,40.11 192.14,46.41 200.44,48.18" fill="none" stroke="#000" stroke-width="1"/>
<rect x="193.80" y="50.95" width="6.3" height="6.3" fill="#000"/>
<polygon points="249.12,44.01 243.44,50.31 251.74,52.08" fill="none" stroke="#000" stroke-width="1"/>
<rect x="245.15" y="55.35" width="6.3" height="6.3" fill="#000"/>
<rect x="367.25" y="58.15" width="6.3" height="6.3" fill="#000"/>
<polygon points="90.22,265.31 84.54,271.61 92.84,273.38" fill="none" stroke="#000" stroke-width="1"/>
<rect x="86.35" y="276.40" width="6.3" height="6.3" fill="#000"/>
<polygon points="115.08,273.60 109.63,279.65 117.59,281.34" fill="#000"/>
<polygon points="115.02,283.71 109.34,290.01 117.64,291.78" fill="none" stroke="#000" stroke-width="1"/>
<rect x="111.15" y="294.35" width="6.3" height="6.3" fill="#000"/>
<polygon points="198.28,267.70 192.83,273.75 200.79,275.44" fill="#000"/>
<polygon points="198.22,278.11 192.54,284.41 200.84,286.18" fill="none" stroke="#000" stroke-width="1"/>
<rect x="194.35" y="289.15" width="6.3" height="6.3" fill="#000"/>
<polygon points="248.82,279.31 243.14,285.61 251.44,287.38" fill="none" stroke="#000" stroke-width="1"/>
<rect x="244.85" y="290.65" width="6.3" height="6.3" fill="#000"/>
<rect x="365.45" y="295.05" width="6.3" height="6.3" fill="#000"/>
</svg>
</body></html>
